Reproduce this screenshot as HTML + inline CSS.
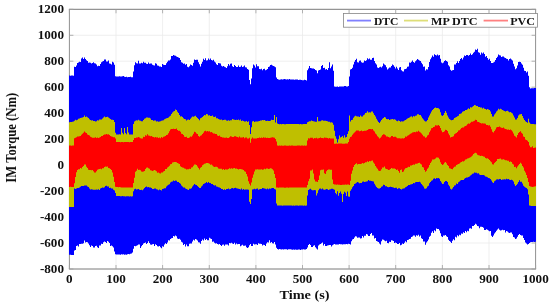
<!DOCTYPE html>
<html><head><meta charset="utf-8"><title>IM Torque</title>
<style>
html,body{margin:0;padding:0;background:#fff;}
body{width:550px;height:307px;overflow:hidden;}
svg{display:block;}
text{font-family:"Liberation Serif","Times New Roman",serif;font-weight:bold;fill:#111;}
</style></head><body>
<svg width="550" height="307" viewBox="0 0 550 307">
<rect x="0" y="0" width="550" height="307" fill="#fff"/>
<g stroke="#ebebeb" stroke-width="0.8" fill="none">
<line x1="116.0" y1="9.3" x2="116.0" y2="269.0"/><line x1="162.6" y1="9.3" x2="162.6" y2="269.0"/><line x1="209.3" y1="9.3" x2="209.3" y2="269.0"/><line x1="255.9" y1="9.3" x2="255.9" y2="269.0"/><line x1="302.5" y1="9.3" x2="302.5" y2="269.0"/><line x1="349.1" y1="9.3" x2="349.1" y2="269.0"/><line x1="395.7" y1="9.3" x2="395.7" y2="269.0"/><line x1="442.4" y1="9.3" x2="442.4" y2="269.0"/><line x1="489.0" y1="9.3" x2="489.0" y2="269.0"/><line x1="69.4" y1="243.0" x2="535.6" y2="243.0"/><line x1="69.4" y1="217.1" x2="535.6" y2="217.1"/><line x1="69.4" y1="191.1" x2="535.6" y2="191.1"/><line x1="69.4" y1="165.1" x2="535.6" y2="165.1"/><line x1="69.4" y1="139.2" x2="535.6" y2="139.2"/><line x1="69.4" y1="113.2" x2="535.6" y2="113.2"/><line x1="69.4" y1="87.2" x2="535.6" y2="87.2"/><line x1="69.4" y1="61.2" x2="535.6" y2="61.2"/><line x1="69.4" y1="35.3" x2="535.6" y2="35.3"/>
</g>
<g stroke="#7a7a7a" stroke-width="1.0" fill="none">
<line x1="69.4" y1="9.3" x2="69.4" y2="269.0" stroke="#909090"/><line x1="535.6" y1="9.3" x2="535.6" y2="269.0" stroke="#909090"/>
<line x1="68.9" y1="9.3" x2="536.1" y2="9.3"/><line x1="68.9" y1="269.0" x2="536.1" y2="269.0"/>
</g>
<g stroke="#a0a0a0" stroke-width="0.8" fill="none">
<line x1="69.4" y1="269.0" x2="69.4" y2="265.0"/><line x1="69.4" y1="9.3" x2="69.4" y2="13.3"/><line x1="116.0" y1="269.0" x2="116.0" y2="265.0"/><line x1="116.0" y1="9.3" x2="116.0" y2="13.3"/><line x1="162.6" y1="269.0" x2="162.6" y2="265.0"/><line x1="162.6" y1="9.3" x2="162.6" y2="13.3"/><line x1="209.3" y1="269.0" x2="209.3" y2="265.0"/><line x1="209.3" y1="9.3" x2="209.3" y2="13.3"/><line x1="255.9" y1="269.0" x2="255.9" y2="265.0"/><line x1="255.9" y1="9.3" x2="255.9" y2="13.3"/><line x1="302.5" y1="269.0" x2="302.5" y2="265.0"/><line x1="302.5" y1="9.3" x2="302.5" y2="13.3"/><line x1="349.1" y1="269.0" x2="349.1" y2="265.0"/><line x1="349.1" y1="9.3" x2="349.1" y2="13.3"/><line x1="395.7" y1="269.0" x2="395.7" y2="265.0"/><line x1="395.7" y1="9.3" x2="395.7" y2="13.3"/><line x1="442.4" y1="269.0" x2="442.4" y2="265.0"/><line x1="442.4" y1="9.3" x2="442.4" y2="13.3"/><line x1="489.0" y1="269.0" x2="489.0" y2="265.0"/><line x1="489.0" y1="9.3" x2="489.0" y2="13.3"/><line x1="535.6" y1="269.0" x2="535.6" y2="265.0"/><line x1="535.6" y1="9.3" x2="535.6" y2="13.3"/><line x1="69.4" y1="269.0" x2="73.4" y2="269.0"/><line x1="535.6" y1="269.0" x2="531.6" y2="269.0"/><line x1="69.4" y1="243.0" x2="73.4" y2="243.0"/><line x1="535.6" y1="243.0" x2="531.6" y2="243.0"/><line x1="69.4" y1="217.1" x2="73.4" y2="217.1"/><line x1="535.6" y1="217.1" x2="531.6" y2="217.1"/><line x1="69.4" y1="191.1" x2="73.4" y2="191.1"/><line x1="535.6" y1="191.1" x2="531.6" y2="191.1"/><line x1="69.4" y1="165.1" x2="73.4" y2="165.1"/><line x1="535.6" y1="165.1" x2="531.6" y2="165.1"/><line x1="69.4" y1="139.2" x2="73.4" y2="139.2"/><line x1="535.6" y1="139.2" x2="531.6" y2="139.2"/><line x1="69.4" y1="113.2" x2="73.4" y2="113.2"/><line x1="535.6" y1="113.2" x2="531.6" y2="113.2"/><line x1="69.4" y1="87.2" x2="73.4" y2="87.2"/><line x1="535.6" y1="87.2" x2="531.6" y2="87.2"/><line x1="69.4" y1="61.2" x2="73.4" y2="61.2"/><line x1="535.6" y1="61.2" x2="531.6" y2="61.2"/><line x1="69.4" y1="35.3" x2="73.4" y2="35.3"/><line x1="535.6" y1="35.3" x2="531.6" y2="35.3"/><line x1="69.4" y1="9.3" x2="73.4" y2="9.3"/><line x1="535.6" y1="9.3" x2="531.6" y2="9.3"/>
</g>
<clipPath id="c"><rect x="69.0" y="9.3" width="467.00000000000006" height="259.7"/></clipPath>
<g clip-path="url(#c)">
<polygon fill="#0000ff" points="69.0,75.5 70.0,75.5 70.0,75.7 71.0,75.7 71.0,75.5 72.0,75.5 72.0,75.4 73.0,75.4 73.0,75.8 74.0,75.8 74.0,66.8 75.0,66.8 75.0,67.0 76.0,67.0 76.0,65.4 77.0,65.4 77.0,63.0 78.0,63.0 78.0,62.4 79.0,62.4 79.0,61.8 80.0,61.8 80.0,62.1 81.0,62.1 81.0,58.5 82.0,58.5 82.0,57.6 83.0,57.6 83.0,59.0 84.0,59.0 84.0,57.4 85.0,57.4 85.0,59.1 86.0,59.1 86.0,60.2 87.0,60.2 87.0,61.1 88.0,61.1 88.0,62.7 89.0,62.7 89.0,62.5 90.0,62.5 90.0,62.7 91.0,62.7 91.0,63.6 92.0,63.6 92.0,62.9 93.0,62.9 93.0,62.3 94.0,62.3 94.0,63.3 95.0,63.3 95.0,63.6 96.0,63.6 96.0,64.5 97.0,64.5 97.0,66.2 98.0,66.2 98.0,65.7 99.0,65.7 99.0,66.1 100.0,66.1 100.0,63.9 101.0,63.9 101.0,62.3 102.0,62.3 102.0,61.4 103.0,61.4 103.0,61.1 104.0,61.1 104.0,59.5 105.0,59.5 105.0,59.4 106.0,59.4 106.0,61.4 107.0,61.4 107.0,61.6 108.0,61.6 108.0,60.6 109.0,60.6 109.0,63.4 110.0,63.4 110.0,63.7 111.0,63.7 111.0,64.6 112.0,64.6 112.0,61.7 113.0,61.7 113.0,62.4 114.0,62.4 114.0,64.8 115.0,64.8 115.0,76.2 116.0,76.2 116.0,76.4 117.0,76.4 117.0,76.4 118.0,76.4 118.0,76.5 119.0,76.5 119.0,76.3 120.0,76.3 120.0,76.4 121.0,76.4 121.0,76.5 122.0,76.5 122.0,76.2 123.0,76.2 123.0,76.1 124.0,76.1 124.0,76.8 125.0,76.8 125.0,77.0 126.0,77.0 126.0,76.8 127.0,76.8 127.0,77.3 128.0,77.3 128.0,77.0 129.0,77.0 129.0,77.0 130.0,77.0 130.0,76.8 131.0,76.8 131.0,77.2 132.0,77.2 132.0,77.2 133.0,77.2 133.0,71.5 134.0,71.5 134.0,65.2 135.0,65.2 135.0,62.3 136.0,62.3 136.0,63.3 137.0,63.3 137.0,63.6 138.0,63.6 138.0,60.7 139.0,60.7 139.0,63.5 140.0,63.5 140.0,63.6 141.0,63.6 141.0,62.8 142.0,62.8 142.0,63.2 143.0,63.2 143.0,61.8 144.0,61.8 144.0,62.7 145.0,62.7 145.0,62.7 146.0,62.7 146.0,63.7 147.0,63.7 147.0,64.0 148.0,64.0 148.0,62.6 149.0,62.6 149.0,63.7 150.0,63.7 150.0,63.5 151.0,63.5 151.0,63.4 152.0,63.4 152.0,64.7 153.0,64.7 153.0,65.2 154.0,65.2 154.0,65.5 155.0,65.5 155.0,63.3 156.0,63.3 156.0,63.7 157.0,63.7 157.0,65.5 158.0,65.5 158.0,65.8 159.0,65.8 159.0,66.6 160.0,66.6 160.0,66.4 161.0,66.4 161.0,66.9 162.0,66.9 162.0,63.9 163.0,63.9 163.0,64.7 164.0,64.7 164.0,64.9 165.0,64.9 165.0,64.9 166.0,64.9 166.0,63.3 167.0,63.3 167.0,61.8 168.0,61.8 168.0,60.5 169.0,60.5 169.0,60.4 170.0,60.4 170.0,59.6 171.0,59.6 171.0,55.9 172.0,55.9 172.0,56.1 173.0,56.1 173.0,55.0 174.0,55.0 174.0,55.5 175.0,55.5 175.0,55.7 176.0,55.7 176.0,56.6 177.0,56.6 177.0,57.1 178.0,57.1 178.0,57.6 179.0,57.6 179.0,57.9 180.0,57.9 180.0,60.1 181.0,60.1 181.0,62.3 182.0,62.3 182.0,62.8 183.0,62.8 183.0,63.8 184.0,63.8 184.0,63.5 185.0,63.5 185.0,64.7 186.0,64.7 186.0,64.1 187.0,64.1 187.0,66.7 188.0,66.7 188.0,67.3 189.0,67.3 189.0,66.2 190.0,66.2 190.0,64.5 191.0,64.5 191.0,65.1 192.0,65.1 192.0,65.7 193.0,65.7 193.0,62.8 194.0,62.8 194.0,59.6 195.0,59.6 195.0,60.1 196.0,60.1 196.0,59.8 197.0,59.8 197.0,59.7 198.0,59.7 198.0,62.3 199.0,62.3 199.0,64.2 200.0,64.2 200.0,66.5 201.0,66.5 201.0,63.8 202.0,63.8 202.0,61.7 203.0,61.7 203.0,58.7 204.0,58.7 204.0,60.0 205.0,60.0 205.0,58.3 206.0,58.3 206.0,60.5 207.0,60.5 207.0,60.2 208.0,60.2 208.0,58.5 209.0,58.5 209.0,59.7 210.0,59.7 210.0,58.6 211.0,58.6 211.0,59.9 212.0,59.9 212.0,60.6 213.0,60.6 213.0,59.8 214.0,59.8 214.0,61.4 215.0,61.4 215.0,62.5 216.0,62.5 216.0,64.3 217.0,64.3 217.0,64.9 218.0,64.9 218.0,63.1 219.0,63.1 219.0,63.3 220.0,63.3 220.0,63.5 221.0,63.5 221.0,65.7 222.0,65.7 222.0,66.4 223.0,66.4 223.0,66.0 224.0,66.0 224.0,66.7 225.0,66.7 225.0,67.3 226.0,67.3 226.0,68.1 227.0,68.1 227.0,66.3 228.0,66.3 228.0,63.9 229.0,63.9 229.0,65.6 230.0,65.6 230.0,63.8 231.0,63.8 231.0,63.6 232.0,63.6 232.0,66.3 233.0,66.3 233.0,67.0 234.0,67.0 234.0,64.9 235.0,64.9 235.0,66.0 236.0,66.0 236.0,67.1 237.0,67.1 237.0,67.1 238.0,67.1 238.0,65.6 239.0,65.6 239.0,67.0 240.0,67.0 240.0,66.8 241.0,66.8 241.0,65.6 242.0,65.6 242.0,67.1 243.0,67.1 243.0,66.4 244.0,66.4 244.0,65.5 245.0,65.5 245.0,67.3 246.0,67.3 246.0,67.6 247.0,67.6 247.0,68.9 248.0,68.9 248.0,69.8 249.0,69.8 249.0,80.0 250.0,80.0 250.0,84.3 251.0,84.3 251.0,78.4 252.0,78.4 252.0,68.2 253.0,68.2 253.0,64.6 254.0,64.6 254.0,65.4 255.0,65.4 255.0,67.5 256.0,67.5 256.0,64.2 257.0,64.2 257.0,66.3 258.0,66.3 258.0,66.3 259.0,66.3 259.0,69.0 260.0,69.0 260.0,69.3 261.0,69.3 261.0,68.8 262.0,68.8 262.0,70.3 263.0,70.3 263.0,69.0 264.0,69.0 264.0,68.7 265.0,68.7 265.0,70.2 266.0,70.2 266.0,69.7 267.0,69.7 267.0,69.1 268.0,69.1 268.0,66.9 269.0,66.9 269.0,66.6 270.0,66.6 270.0,65.0 271.0,65.0 271.0,64.7 272.0,64.7 272.0,65.5 273.0,65.5 273.0,65.9 274.0,65.9 274.0,66.5 275.0,66.5 275.0,67.2 276.0,67.2 276.0,77.4 277.0,77.4 277.0,79.1 278.0,79.1 278.0,79.6 279.0,79.6 279.0,79.7 280.0,79.7 280.0,79.6 281.0,79.6 281.0,79.2 282.0,79.2 282.0,79.6 283.0,79.6 283.0,79.2 284.0,79.2 284.0,79.1 285.0,79.1 285.0,79.3 286.0,79.3 286.0,79.6 287.0,79.6 287.0,79.3 288.0,79.3 288.0,79.4 289.0,79.4 289.0,79.1 290.0,79.1 290.0,79.6 291.0,79.6 291.0,79.6 292.0,79.6 292.0,79.4 293.0,79.4 293.0,79.5 294.0,79.5 294.0,79.7 295.0,79.7 295.0,79.6 296.0,79.6 296.0,79.4 297.0,79.4 297.0,79.6 298.0,79.6 298.0,79.9 299.0,79.9 299.0,79.8 300.0,79.8 300.0,79.8 301.0,79.8 301.0,79.9 302.0,79.9 302.0,80.2 303.0,80.2 303.0,80.2 304.0,80.2 304.0,79.8 305.0,79.8 305.0,80.1 306.0,80.1 306.0,80.6 307.0,80.6 307.0,70.2 308.0,70.2 308.0,68.4 309.0,68.4 309.0,66.0 310.0,66.0 310.0,68.0 311.0,68.0 311.0,68.2 312.0,68.2 312.0,68.5 313.0,68.5 313.0,68.4 314.0,68.4 314.0,69.1 315.0,69.1 315.0,69.9 316.0,69.9 316.0,70.6 317.0,70.6 317.0,73.3 318.0,73.3 318.0,70.6 319.0,70.6 319.0,69.9 320.0,69.9 320.0,69.5 321.0,69.5 321.0,65.9 322.0,65.9 322.0,65.0 323.0,65.0 323.0,68.0 324.0,68.0 324.0,67.7 325.0,67.7 325.0,69.5 326.0,69.5 326.0,69.1 327.0,69.1 327.0,70.0 328.0,70.0 328.0,68.0 329.0,68.0 329.0,62.3 330.0,62.3 330.0,68.3 331.0,68.3 331.0,66.5 332.0,66.5 332.0,64.6 333.0,64.6 333.0,70.8 334.0,70.8 334.0,86.6 335.0,86.6 335.0,86.8 336.0,86.8 336.0,86.7 337.0,86.7 337.0,86.5 338.0,86.5 338.0,86.9 339.0,86.9 339.0,86.4 340.0,86.4 340.0,86.6 341.0,86.6 341.0,86.6 342.0,86.6 342.0,86.6 343.0,86.6 343.0,86.6 344.0,86.6 344.0,86.1 345.0,86.1 345.0,86.0 346.0,86.0 346.0,86.5 347.0,86.5 347.0,86.4 348.0,86.4 348.0,86.0 349.0,86.0 349.0,76.5 350.0,76.5 350.0,69.6 351.0,69.6 351.0,69.1 352.0,69.1 352.0,67.8 353.0,67.8 353.0,64.6 354.0,64.6 354.0,61.7 355.0,61.7 355.0,59.9 356.0,59.9 356.0,58.8 357.0,58.8 357.0,62.2 358.0,62.2 358.0,62.6 359.0,62.6 359.0,60.8 360.0,60.8 360.0,60.6 361.0,60.6 361.0,62.3 362.0,62.3 362.0,62.7 363.0,62.7 363.0,62.6 364.0,62.6 364.0,60.6 365.0,60.6 365.0,60.9 366.0,60.9 366.0,60.2 367.0,60.2 367.0,58.3 368.0,58.3 368.0,59.3 369.0,59.3 369.0,58.6 370.0,58.6 370.0,59.7 371.0,59.7 371.0,59.7 372.0,59.7 372.0,58.1 373.0,58.1 373.0,57.7 374.0,57.7 374.0,61.0 375.0,61.0 375.0,63.2 376.0,63.2 376.0,64.4 377.0,64.4 377.0,67.4 378.0,67.4 378.0,68.0 379.0,68.0 379.0,67.2 380.0,67.2 380.0,66.8 381.0,66.8 381.0,67.6 382.0,67.6 382.0,66.3 383.0,66.3 383.0,63.4 384.0,63.4 384.0,64.6 385.0,64.6 385.0,65.3 386.0,65.3 386.0,67.3 387.0,67.3 387.0,69.4 388.0,69.4 388.0,68.6 389.0,68.6 389.0,67.4 390.0,67.4 390.0,67.6 391.0,67.6 391.0,66.0 392.0,66.0 392.0,64.6 393.0,64.6 393.0,65.3 394.0,65.3 394.0,66.7 395.0,66.7 395.0,68.5 396.0,68.5 396.0,66.7 397.0,66.7 397.0,68.6 398.0,68.6 398.0,70.1 399.0,70.1 399.0,67.5 400.0,67.5 400.0,66.9 401.0,66.9 401.0,70.2 402.0,70.2 402.0,71.2 403.0,71.2 403.0,71.5 404.0,71.5 404.0,69.2 405.0,69.2 405.0,69.1 406.0,69.1 406.0,68.4 407.0,68.4 407.0,66.7 408.0,66.7 408.0,66.4 409.0,66.4 409.0,62.6 410.0,62.6 410.0,62.7 411.0,62.7 411.0,61.7 412.0,61.7 412.0,60.6 413.0,60.6 413.0,61.9 414.0,61.9 414.0,62.8 415.0,62.8 415.0,61.3 416.0,61.3 416.0,60.3 417.0,60.3 417.0,58.9 418.0,58.9 418.0,59.8 419.0,59.8 419.0,60.6 420.0,60.6 420.0,61.0 421.0,61.0 421.0,62.7 422.0,62.7 422.0,64.3 423.0,64.3 423.0,66.8 424.0,66.8 424.0,66.6 425.0,66.6 425.0,70.5 426.0,70.5 426.0,69.2 427.0,69.2 427.0,69.4 428.0,69.4 428.0,67.0 429.0,67.0 429.0,62.0 430.0,62.0 430.0,59.2 431.0,59.2 431.0,57.6 432.0,57.6 432.0,55.6 433.0,55.6 433.0,56.8 434.0,56.8 434.0,54.3 435.0,54.3 435.0,54.9 436.0,54.9 436.0,55.6 437.0,55.6 437.0,54.6 438.0,54.6 438.0,55.4 439.0,55.4 439.0,55.1 440.0,55.1 440.0,58.8 441.0,58.8 441.0,62.6 442.0,62.6 442.0,63.3 443.0,63.3 443.0,62.6 444.0,62.6 444.0,60.9 445.0,60.9 445.0,60.2 446.0,60.2 446.0,61.1 447.0,61.1 447.0,61.7 448.0,61.7 448.0,65.3 449.0,65.3 449.0,66.5 450.0,66.5 450.0,69.8 451.0,69.8 451.0,70.8 452.0,70.8 452.0,70.2 453.0,70.2 453.0,69.9 454.0,69.9 454.0,64.5 455.0,64.5 455.0,64.6 456.0,64.6 456.0,63.1 457.0,63.1 457.0,61.2 458.0,61.2 458.0,63.0 459.0,63.0 459.0,60.9 460.0,60.9 460.0,58.9 461.0,58.9 461.0,58.1 462.0,58.1 462.0,59.6 463.0,59.6 463.0,57.6 464.0,57.6 464.0,55.4 465.0,55.4 465.0,56.1 466.0,56.1 466.0,55.0 467.0,55.0 467.0,55.0 468.0,55.0 468.0,55.7 469.0,55.7 469.0,54.9 470.0,54.9 470.0,53.4 471.0,53.4 471.0,55.0 472.0,55.0 472.0,54.2 473.0,54.2 473.0,52.7 474.0,52.7 474.0,51.8 475.0,51.8 475.0,49.6 476.0,49.6 476.0,50.0 477.0,50.0 477.0,48.7 478.0,48.7 478.0,52.3 479.0,52.3 479.0,52.8 480.0,52.8 480.0,54.7 481.0,54.7 481.0,52.6 482.0,52.6 482.0,53.6 483.0,53.6 483.0,52.4 484.0,52.4 484.0,54.1 485.0,54.1 485.0,56.7 486.0,56.7 486.0,56.0 487.0,56.0 487.0,58.1 488.0,58.1 488.0,59.7 489.0,59.7 489.0,58.7 490.0,58.7 490.0,60.9 491.0,60.9 491.0,63.0 492.0,63.0 492.0,63.1 493.0,63.1 493.0,62.4 494.0,62.4 494.0,61.7 495.0,61.7 495.0,60.0 496.0,60.0 496.0,58.0 497.0,58.0 497.0,56.7 498.0,56.7 498.0,54.4 499.0,54.4 499.0,55.3 500.0,55.3 500.0,55.5 501.0,55.5 501.0,57.0 502.0,57.0 502.0,56.6 503.0,56.6 503.0,56.5 504.0,56.5 504.0,57.5 505.0,57.5 505.0,58.1 506.0,58.1 506.0,58.8 507.0,58.8 507.0,58.9 508.0,58.9 508.0,60.6 509.0,60.6 509.0,59.1 510.0,59.1 510.0,58.5 511.0,58.5 511.0,59.5 512.0,59.5 512.0,60.6 513.0,60.6 513.0,63.8 514.0,63.8 514.0,66.6 515.0,66.6 515.0,69.2 516.0,69.2 516.0,68.2 517.0,68.2 517.0,65.5 518.0,65.5 518.0,62.0 519.0,62.0 519.0,61.8 520.0,61.8 520.0,62.0 521.0,62.0 521.0,63.4 522.0,63.4 522.0,64.8 523.0,64.8 523.0,67.7 524.0,67.7 524.0,70.8 525.0,70.8 525.0,71.1 526.0,71.1 526.0,72.6 527.0,72.6 527.0,71.6 528.0,71.6 528.0,75.7 529.0,75.7 529.0,87.3 530.0,87.3 530.0,88.4 531.0,88.4 531.0,88.2 532.0,88.2 532.0,88.3 533.0,88.3 533.0,88.2 534.0,88.2 534.0,88.1 535.0,88.1 535.0,87.9 536.0,87.9 536.0,87.9 537.0,87.9 537.0,241.9 536.0,241.9 536.0,241.7 535.0,241.7 535.0,242.0 534.0,242.0 534.0,241.7 533.0,241.7 533.0,242.1 532.0,242.1 532.0,241.9 531.0,241.9 531.0,242.2 530.0,242.2 530.0,242.9 529.0,242.9 529.0,244.0 528.0,244.0 528.0,244.6 527.0,244.6 527.0,243.6 526.0,243.6 526.0,242.4 525.0,242.4 525.0,240.0 524.0,240.0 524.0,238.1 523.0,238.1 523.0,235.5 522.0,235.5 522.0,235.6 521.0,235.6 521.0,234.9 520.0,234.9 520.0,234.0 519.0,234.0 519.0,234.9 518.0,234.9 518.0,236.7 517.0,236.7 517.0,238.5 516.0,238.5 516.0,239.1 515.0,239.1 515.0,237.6 514.0,237.6 514.0,237.1 513.0,237.1 513.0,234.2 512.0,234.2 512.0,232.4 511.0,232.4 511.0,232.4 510.0,232.4 510.0,233.0 509.0,233.0 509.0,232.5 508.0,232.5 508.0,231.5 507.0,231.5 507.0,230.9 506.0,230.9 506.0,232.6 505.0,232.6 505.0,230.1 504.0,230.1 504.0,230.3 503.0,230.3 503.0,229.7 502.0,229.7 502.0,230.2 501.0,230.2 501.0,230.6 500.0,230.6 500.0,229.7 499.0,229.7 499.0,228.6 498.0,228.6 498.0,229.4 497.0,229.4 497.0,230.8 496.0,230.8 496.0,232.3 495.0,232.3 495.0,233.5 494.0,233.5 494.0,235.6 493.0,235.6 493.0,237.1 492.0,237.1 492.0,235.8 491.0,235.8 491.0,231.0 490.0,231.0 490.0,231.2 489.0,231.2 489.0,230.4 488.0,230.4 488.0,229.7 487.0,229.7 487.0,229.3 486.0,229.3 486.0,230.0 485.0,230.0 485.0,229.9 484.0,229.9 484.0,227.7 483.0,227.7 483.0,226.9 482.0,226.9 482.0,226.8 481.0,226.8 481.0,226.8 480.0,226.8 480.0,228.2 479.0,228.2 479.0,226.3 478.0,226.3 478.0,225.9 477.0,225.9 477.0,224.4 476.0,224.4 476.0,223.7 475.0,223.7 475.0,225.0 474.0,225.0 474.0,225.9 473.0,225.9 473.0,226.0 472.0,226.0 472.0,228.8 471.0,228.8 471.0,228.2 470.0,228.2 470.0,228.4 469.0,228.4 469.0,231.2 468.0,231.2 468.0,230.8 467.0,230.8 467.0,232.2 466.0,232.2 466.0,231.1 465.0,231.1 465.0,233.0 464.0,233.0 464.0,232.2 463.0,232.2 463.0,233.8 462.0,233.8 462.0,233.5 461.0,233.5 461.0,235.2 460.0,235.2 460.0,234.8 459.0,234.8 459.0,236.2 458.0,236.2 458.0,235.2 457.0,235.2 457.0,237.5 456.0,237.5 456.0,236.8 455.0,236.8 455.0,240.2 454.0,240.2 454.0,239.2 453.0,239.2 453.0,240.8 452.0,240.8 452.0,243.1 451.0,243.1 451.0,241.7 450.0,241.7 450.0,240.9 449.0,240.9 449.0,239.8 448.0,239.8 448.0,237.1 447.0,237.1 447.0,236.3 446.0,236.3 446.0,234.9 445.0,234.9 445.0,235.5 444.0,235.5 444.0,235.5 443.0,235.5 443.0,236.9 442.0,236.9 442.0,236.3 441.0,236.3 441.0,233.2 440.0,233.2 440.0,230.5 439.0,230.5 439.0,228.9 438.0,228.9 438.0,229.0 437.0,229.0 437.0,228.6 436.0,228.6 436.0,231.2 435.0,231.2 435.0,230.2 434.0,230.2 434.0,233.0 433.0,233.0 433.0,231.2 432.0,231.2 432.0,232.8 431.0,232.8 431.0,235.7 430.0,235.7 430.0,236.8 429.0,236.8 429.0,239.5 428.0,239.5 428.0,241.3 427.0,241.3 427.0,242.5 426.0,242.5 426.0,244.8 425.0,244.8 425.0,241.6 424.0,241.6 424.0,241.4 423.0,241.4 423.0,239.0 422.0,239.0 422.0,238.3 421.0,238.3 421.0,235.6 420.0,235.6 420.0,236.6 419.0,236.6 419.0,234.8 418.0,234.8 418.0,235.8 417.0,235.8 417.0,235.2 416.0,235.2 416.0,236.8 415.0,236.8 415.0,235.5 414.0,235.5 414.0,235.6 413.0,235.6 413.0,236.6 412.0,236.6 412.0,237.1 411.0,237.1 411.0,238.7 410.0,238.7 410.0,239.1 409.0,239.1 409.0,239.7 408.0,239.7 408.0,240.0 407.0,240.0 407.0,242.2 406.0,242.2 406.0,241.2 405.0,241.2 405.0,242.7 404.0,242.7 404.0,243.9 403.0,243.9 403.0,243.4 402.0,243.4 402.0,244.8 401.0,244.8 401.0,245.3 400.0,245.3 400.0,242.9 399.0,242.9 399.0,244.0 398.0,244.0 398.0,243.9 397.0,243.9 397.0,242.9 396.0,242.9 396.0,242.6 395.0,242.6 395.0,243.0 394.0,243.0 394.0,241.1 393.0,241.1 393.0,240.5 392.0,240.5 392.0,240.2 391.0,240.2 391.0,242.1 390.0,242.1 390.0,241.7 389.0,241.7 389.0,243.2 388.0,243.2 388.0,243.1 387.0,243.1 387.0,240.8 386.0,240.8 386.0,241.2 385.0,241.2 385.0,240.4 384.0,240.4 384.0,239.7 383.0,239.7 383.0,239.4 382.0,239.4 382.0,241.3 381.0,241.3 381.0,244.6 380.0,244.6 380.0,243.6 379.0,243.6 379.0,242.0 378.0,242.0 378.0,241.4 377.0,241.4 377.0,240.9 376.0,240.9 376.0,238.1 375.0,238.1 375.0,238.5 374.0,238.5 374.0,235.4 373.0,235.4 373.0,235.6 372.0,235.6 372.0,233.1 371.0,233.1 371.0,234.1 370.0,234.1 370.0,236.1 369.0,236.1 369.0,236.1 368.0,236.1 368.0,234.4 367.0,234.4 367.0,234.0 366.0,234.0 366.0,235.7 365.0,235.7 365.0,235.8 364.0,235.8 364.0,237.4 363.0,237.4 363.0,236.0 362.0,236.0 362.0,238.3 361.0,238.3 361.0,238.4 360.0,238.4 360.0,237.5 359.0,237.5 359.0,237.5 358.0,237.5 358.0,237.8 357.0,237.8 357.0,236.5 356.0,236.5 356.0,236.2 355.0,236.2 355.0,237.4 354.0,237.4 354.0,238.9 353.0,238.9 353.0,239.6 352.0,239.6 352.0,241.2 351.0,241.2 351.0,244.6 350.0,244.6 350.0,243.9 349.0,243.9 349.0,243.8 348.0,243.8 348.0,244.2 347.0,244.2 347.0,244.1 346.0,244.1 346.0,244.3 345.0,244.3 345.0,244.3 344.0,244.3 344.0,244.2 343.0,244.2 343.0,244.4 342.0,244.4 342.0,244.2 341.0,244.2 341.0,244.3 340.0,244.3 340.0,244.0 339.0,244.0 339.0,244.4 338.0,244.4 338.0,244.4 337.0,244.4 337.0,244.4 336.0,244.4 336.0,244.4 335.0,244.4 335.0,244.1 334.0,244.1 334.0,244.4 333.0,244.4 333.0,245.2 332.0,245.2 332.0,246.4 331.0,246.4 331.0,245.0 330.0,245.0 330.0,245.0 329.0,245.0 329.0,245.3 328.0,245.3 328.0,245.4 327.0,245.4 327.0,246.1 326.0,246.1 326.0,245.9 325.0,245.9 325.0,243.9 324.0,243.9 324.0,245.4 323.0,245.4 323.0,242.6 322.0,242.6 322.0,243.3 321.0,243.3 321.0,243.9 320.0,243.9 320.0,244.4 319.0,244.4 319.0,245.5 318.0,245.5 318.0,249.5 317.0,249.5 317.0,248.6 316.0,248.6 316.0,247.3 315.0,247.3 315.0,245.2 314.0,245.2 314.0,245.7 313.0,245.7 313.0,246.9 312.0,246.9 312.0,246.9 311.0,246.9 311.0,245.0 310.0,245.0 310.0,244.0 309.0,244.0 309.0,244.9 308.0,244.9 308.0,247.4 307.0,247.4 307.0,249.1 306.0,249.1 306.0,249.5 305.0,249.5 305.0,249.5 304.0,249.5 304.0,249.2 303.0,249.2 303.0,249.6 302.0,249.6 302.0,249.5 301.0,249.5 301.0,249.9 300.0,249.9 300.0,249.5 299.0,249.5 299.0,249.4 298.0,249.4 298.0,249.7 297.0,249.7 297.0,249.8 296.0,249.8 296.0,249.6 295.0,249.6 295.0,249.7 294.0,249.7 294.0,249.6 293.0,249.6 293.0,249.7 292.0,249.7 292.0,249.6 291.0,249.6 291.0,249.3 290.0,249.3 290.0,249.3 289.0,249.3 289.0,249.3 288.0,249.3 288.0,249.7 287.0,249.7 287.0,249.2 286.0,249.2 286.0,249.2 285.0,249.2 285.0,249.3 284.0,249.3 284.0,249.6 283.0,249.6 283.0,249.3 282.0,249.3 282.0,249.6 281.0,249.6 281.0,249.2 280.0,249.2 280.0,249.1 279.0,249.1 279.0,249.4 278.0,249.4 278.0,249.0 277.0,249.0 277.0,247.8 276.0,247.8 276.0,244.6 275.0,244.6 275.0,241.9 274.0,241.9 274.0,243.6 273.0,243.6 273.0,243.2 272.0,243.2 272.0,241.9 271.0,241.9 271.0,242.7 270.0,242.7 270.0,240.2 269.0,240.2 269.0,242.6 268.0,242.6 268.0,242.2 267.0,242.2 267.0,243.5 266.0,243.5 266.0,245.9 265.0,245.9 265.0,245.0 264.0,245.0 264.0,244.7 263.0,244.7 263.0,245.4 262.0,245.4 262.0,243.9 261.0,243.9 261.0,243.8 260.0,243.8 260.0,243.8 259.0,243.8 259.0,243.2 258.0,243.2 258.0,245.0 257.0,245.0 257.0,244.3 256.0,244.3 256.0,244.3 255.0,244.3 255.0,244.4 254.0,244.4 254.0,243.8 253.0,243.8 253.0,246.0 252.0,246.0 252.0,246.1 251.0,246.1 251.0,244.0 250.0,244.0 250.0,245.2 249.0,245.2 249.0,247.3 248.0,247.3 248.0,248.0 247.0,248.0 247.0,247.3 246.0,247.3 246.0,245.5 245.0,245.5 245.0,245.8 244.0,245.8 244.0,245.7 243.0,245.7 243.0,244.8 242.0,244.8 242.0,245.5 241.0,245.5 241.0,246.3 240.0,246.3 240.0,244.1 239.0,244.1 239.0,244.1 238.0,244.1 238.0,244.2 237.0,244.2 237.0,243.6 236.0,243.6 236.0,244.4 235.0,244.4 235.0,242.8 234.0,242.8 234.0,244.0 233.0,244.0 233.0,243.5 232.0,243.5 232.0,242.8 231.0,242.8 231.0,243.2 230.0,243.2 230.0,243.1 229.0,243.1 229.0,245.4 228.0,245.4 228.0,244.4 227.0,244.4 227.0,244.5 226.0,244.5 226.0,244.4 225.0,244.4 225.0,245.8 224.0,245.8 224.0,244.4 223.0,244.4 223.0,244.7 222.0,244.7 222.0,246.0 221.0,246.0 221.0,245.0 220.0,245.0 220.0,243.9 219.0,243.9 219.0,244.6 218.0,244.6 218.0,243.9 217.0,243.9 217.0,243.2 216.0,243.2 216.0,243.4 215.0,243.4 215.0,242.7 214.0,242.7 214.0,241.4 213.0,241.4 213.0,241.8 212.0,241.8 212.0,238.9 211.0,238.9 211.0,238.4 210.0,238.4 210.0,237.8 209.0,237.8 209.0,240.3 208.0,240.3 208.0,240.2 207.0,240.2 207.0,239.1 206.0,239.1 206.0,239.9 205.0,239.9 205.0,238.5 204.0,238.5 204.0,240.5 203.0,240.5 203.0,239.5 202.0,239.5 202.0,240.9 201.0,240.9 201.0,243.8 200.0,243.8 200.0,242.5 199.0,242.5 199.0,242.2 198.0,242.2 198.0,240.4 197.0,240.4 197.0,239.5 196.0,239.5 196.0,239.1 195.0,239.1 195.0,240.6 194.0,240.6 194.0,239.8 193.0,239.8 193.0,241.4 192.0,241.4 192.0,243.4 191.0,243.4 191.0,243.6 190.0,243.6 190.0,243.7 189.0,243.7 189.0,246.2 188.0,246.2 188.0,246.3 187.0,246.3 187.0,244.6 186.0,244.6 186.0,246.5 185.0,246.5 185.0,244.0 184.0,244.0 184.0,245.1 183.0,245.1 183.0,242.4 182.0,242.4 182.0,241.7 181.0,241.7 181.0,239.8 180.0,239.8 180.0,238.8 179.0,238.8 179.0,238.9 178.0,238.9 178.0,238.6 177.0,238.6 177.0,236.3 176.0,236.3 176.0,235.5 175.0,235.5 175.0,236.6 174.0,236.6 174.0,236.1 173.0,236.1 173.0,238.0 172.0,238.0 172.0,238.3 171.0,238.3 171.0,239.1 170.0,239.1 170.0,240.5 169.0,240.5 169.0,240.2 168.0,240.2 168.0,242.5 167.0,242.5 167.0,244.1 166.0,244.1 166.0,243.2 165.0,243.2 165.0,244.6 164.0,244.6 164.0,246.7 163.0,246.7 163.0,246.2 162.0,246.2 162.0,248.2 161.0,248.2 161.0,247.2 160.0,247.2 160.0,245.9 159.0,245.9 159.0,246.4 158.0,246.4 158.0,246.3 157.0,246.3 157.0,244.9 156.0,244.9 156.0,244.2 155.0,244.2 155.0,245.9 154.0,245.9 154.0,244.1 153.0,244.1 153.0,244.2 152.0,244.2 152.0,244.7 151.0,244.7 151.0,244.4 150.0,244.4 150.0,243.1 149.0,243.1 149.0,241.3 148.0,241.3 148.0,243.1 147.0,243.1 147.0,243.9 146.0,243.9 146.0,242.6 145.0,242.6 145.0,242.9 144.0,242.9 144.0,243.4 143.0,243.4 143.0,245.0 142.0,245.0 142.0,246.3 141.0,246.3 141.0,247.9 140.0,247.9 140.0,244.4 139.0,244.4 139.0,244.6 138.0,244.6 138.0,245.3 137.0,245.3 137.0,245.8 136.0,245.8 136.0,246.3 135.0,246.3 135.0,246.1 134.0,246.1 134.0,248.7 133.0,248.7 133.0,252.6 132.0,252.6 132.0,253.5 131.0,253.5 131.0,253.8 130.0,253.8 130.0,254.3 129.0,254.3 129.0,253.9 128.0,253.9 128.0,254.3 127.0,254.3 127.0,254.7 126.0,254.7 126.0,254.4 125.0,254.4 125.0,254.7 124.0,254.7 124.0,254.2 123.0,254.2 123.0,254.5 122.0,254.5 122.0,254.3 121.0,254.3 121.0,254.7 120.0,254.7 120.0,254.4 119.0,254.4 119.0,254.5 118.0,254.5 118.0,254.5 117.0,254.5 117.0,254.5 116.0,254.5 116.0,254.3 115.0,254.3 115.0,251.5 114.0,251.5 114.0,247.4 113.0,247.4 113.0,246.3 112.0,246.3 112.0,245.5 111.0,245.5 111.0,245.9 110.0,245.9 110.0,243.0 109.0,243.0 109.0,241.8 108.0,241.8 108.0,241.1 107.0,241.1 107.0,242.9 106.0,242.9 106.0,242.0 105.0,242.0 105.0,241.6 104.0,241.6 104.0,242.2 103.0,242.2 103.0,244.1 102.0,244.1 102.0,243.8 101.0,243.8 101.0,245.5 100.0,245.5 100.0,245.4 99.0,245.4 99.0,247.9 98.0,247.9 98.0,247.3 97.0,247.3 97.0,245.8 96.0,245.8 96.0,245.9 95.0,245.9 95.0,247.6 94.0,247.6 94.0,247.6 93.0,247.6 93.0,245.9 92.0,245.9 92.0,245.4 91.0,245.4 91.0,247.1 90.0,247.1 90.0,245.3 89.0,245.3 89.0,243.5 88.0,243.5 88.0,242.3 87.0,242.3 87.0,241.9 86.0,241.9 86.0,242.6 85.0,242.6 85.0,240.5 84.0,240.5 84.0,243.3 83.0,243.3 83.0,243.8 82.0,243.8 82.0,243.8 81.0,243.8 81.0,243.9 80.0,243.9 80.0,244.0 79.0,244.0 79.0,246.4 78.0,246.4 78.0,245.5 77.0,245.5 77.0,246.1 76.0,246.1 76.0,250.0 75.0,250.0 75.0,250.6 74.0,250.6 74.0,255.1 73.0,255.1 73.0,255.1 72.0,255.1 72.0,255.0 71.0,255.0 71.0,254.7 70.0,254.7 70.0,254.8 69.0,254.8"/>
<polygon fill="#bfbf00" points="69.0,122.3 70.0,122.3 70.0,122.0 71.0,122.0 71.0,122.0 72.0,122.0 72.0,121.7 73.0,121.7 73.0,121.4 74.0,121.4 74.0,120.7 75.0,120.7 75.0,119.7 76.0,119.7 76.0,120.2 77.0,120.2 77.0,119.8 78.0,119.8 78.0,118.8 79.0,118.8 79.0,118.6 80.0,118.6 80.0,117.9 81.0,117.9 81.0,117.8 82.0,117.8 82.0,117.4 83.0,117.4 83.0,117.0 84.0,117.0 84.0,115.5 85.0,115.5 85.0,117.0 86.0,117.0 86.0,116.6 87.0,116.6 87.0,117.3 88.0,117.3 88.0,118.1 89.0,118.1 89.0,119.2 90.0,119.2 90.0,119.9 91.0,119.9 91.0,120.6 92.0,120.6 92.0,120.3 93.0,120.3 93.0,120.9 94.0,120.9 94.0,121.0 95.0,121.0 95.0,121.4 96.0,121.4 96.0,121.2 97.0,121.2 97.0,120.3 98.0,120.3 98.0,120.5 99.0,120.5 99.0,119.5 100.0,119.5 100.0,119.6 101.0,119.6 101.0,119.5 102.0,119.5 102.0,118.6 103.0,118.6 103.0,117.6 104.0,117.6 104.0,116.6 105.0,116.6 105.0,117.2 106.0,117.2 106.0,116.9 107.0,116.9 107.0,116.7 108.0,116.7 108.0,117.4 109.0,117.4 109.0,118.3 110.0,118.3 110.0,118.9 111.0,118.9 111.0,119.7 112.0,119.7 112.0,119.8 113.0,119.8 113.0,119.9 114.0,119.9 114.0,121.9 115.0,121.9 115.0,132.7 116.0,132.7 116.0,134.4 117.0,134.4 117.0,134.5 118.0,134.5 118.0,134.5 119.0,134.5 119.0,134.3 120.0,134.3 120.0,134.6 121.0,134.6 121.0,128.0 122.0,128.0 122.0,132.8 123.0,132.8 123.0,134.3 124.0,134.3 124.0,128.1 125.0,128.1 125.0,133.0 126.0,133.0 126.0,134.3 127.0,134.3 127.0,127.1 128.0,127.1 128.0,132.6 129.0,132.6 129.0,134.6 130.0,134.6 130.0,134.5 131.0,134.5 131.0,134.5 132.0,134.5 132.0,134.4 133.0,134.4 133.0,124.1 134.0,124.1 134.0,121.6 135.0,121.6 135.0,120.7 136.0,120.7 136.0,120.3 137.0,120.3 137.0,120.6 138.0,120.6 138.0,119.8 139.0,119.8 139.0,120.5 140.0,120.5 140.0,120.8 141.0,120.8 141.0,121.2 142.0,121.2 142.0,121.2 143.0,121.2 143.0,119.9 144.0,119.9 144.0,118.8 145.0,118.8 145.0,118.3 146.0,118.3 146.0,117.4 147.0,117.4 147.0,117.4 148.0,117.4 148.0,117.8 149.0,117.8 149.0,117.8 150.0,117.8 150.0,118.6 151.0,118.6 151.0,119.9 152.0,119.9 152.0,120.1 153.0,120.1 153.0,120.7 154.0,120.7 154.0,120.6 155.0,120.6 155.0,120.6 156.0,120.6 156.0,121.4 157.0,121.4 157.0,121.3 158.0,121.3 158.0,121.7 159.0,121.7 159.0,121.6 160.0,121.6 160.0,121.3 161.0,121.3 161.0,120.7 162.0,120.7 162.0,120.5 163.0,120.5 163.0,120.2 164.0,120.2 164.0,119.3 165.0,119.3 165.0,118.8 166.0,118.8 166.0,118.2 167.0,118.2 167.0,118.0 168.0,118.0 168.0,117.4 169.0,117.4 169.0,116.5 170.0,116.5 170.0,115.8 171.0,115.8 171.0,114.0 172.0,114.0 172.0,112.5 173.0,112.5 173.0,111.6 174.0,111.6 174.0,111.1 175.0,111.1 175.0,109.6 176.0,109.6 176.0,110.0 177.0,110.0 177.0,111.7 178.0,111.7 178.0,113.1 179.0,113.1 179.0,115.1 180.0,115.1 180.0,116.4 181.0,116.4 181.0,116.2 182.0,116.2 182.0,116.9 183.0,116.9 183.0,118.3 184.0,118.3 184.0,118.9 185.0,118.9 185.0,119.2 186.0,119.2 186.0,120.4 187.0,120.4 187.0,119.7 188.0,119.7 188.0,119.6 189.0,119.6 189.0,119.9 190.0,119.9 190.0,118.7 191.0,118.7 191.0,117.6 192.0,117.6 192.0,116.6 193.0,116.6 193.0,116.7 194.0,116.7 194.0,116.3 195.0,116.3 195.0,115.8 196.0,115.8 196.0,116.9 197.0,116.9 197.0,118.1 198.0,118.1 198.0,119.1 199.0,119.1 199.0,120.3 200.0,120.3 200.0,118.2 201.0,118.2 201.0,117.8 202.0,117.8 202.0,117.0 203.0,117.0 203.0,116.1 204.0,116.1 204.0,114.9 205.0,114.9 205.0,115.2 206.0,115.2 206.0,114.1 207.0,114.1 207.0,114.3 208.0,114.3 208.0,115.4 209.0,115.4 209.0,115.2 210.0,115.2 210.0,115.9 211.0,115.9 211.0,116.0 212.0,116.0 212.0,115.4 213.0,115.4 213.0,116.7 214.0,116.7 214.0,116.9 215.0,116.9 215.0,116.6 216.0,116.6 216.0,118.2 217.0,118.2 217.0,118.2 218.0,118.2 218.0,119.0 219.0,119.0 219.0,119.5 220.0,119.5 220.0,119.7 221.0,119.7 221.0,119.5 222.0,119.5 222.0,120.2 223.0,120.2 223.0,119.9 224.0,119.9 224.0,119.7 225.0,119.7 225.0,119.8 226.0,119.8 226.0,120.4 227.0,120.4 227.0,120.8 228.0,120.8 228.0,120.3 229.0,120.3 229.0,120.7 230.0,120.7 230.0,120.3 231.0,120.3 231.0,120.2 232.0,120.2 232.0,119.1 233.0,119.1 233.0,119.6 234.0,119.6 234.0,119.8 235.0,119.8 235.0,120.0 236.0,120.0 236.0,119.8 237.0,119.8 237.0,119.9 238.0,119.9 238.0,119.5 239.0,119.5 239.0,120.2 240.0,120.2 240.0,119.6 241.0,119.6 241.0,120.9 242.0,120.9 242.0,120.6 243.0,120.6 243.0,121.1 244.0,121.1 244.0,121.4 245.0,121.4 245.0,121.5 246.0,121.5 246.0,120.9 247.0,120.9 247.0,121.9 248.0,121.9 248.0,121.3 249.0,121.3 249.0,125.0 250.0,125.0 250.0,134.0 251.0,134.0 251.0,127.2 252.0,127.2 252.0,121.5 253.0,121.5 253.0,120.9 254.0,120.9 254.0,121.9 255.0,121.9 255.0,121.6 256.0,121.6 256.0,121.4 257.0,121.4 257.0,121.5 258.0,121.5 258.0,121.2 259.0,121.2 259.0,120.9 260.0,120.9 260.0,120.5 261.0,120.5 261.0,120.5 262.0,120.5 262.0,119.9 263.0,119.9 263.0,120.3 264.0,120.3 264.0,120.1 265.0,120.1 265.0,120.8 266.0,120.8 266.0,120.9 267.0,120.9 267.0,120.8 268.0,120.8 268.0,121.1 269.0,121.1 269.0,121.0 270.0,121.0 270.0,120.7 271.0,120.7 271.0,119.8 272.0,119.8 272.0,119.9 273.0,119.9 273.0,120.1 274.0,120.1 274.0,115.1 275.0,115.1 275.0,122.4 276.0,122.4 276.0,117.1 277.0,117.1 277.0,123.6 278.0,123.6 278.0,124.0 279.0,124.0 279.0,124.2 280.0,124.2 280.0,124.1 281.0,124.1 281.0,124.2 282.0,124.2 282.0,123.9 283.0,123.9 283.0,124.1 284.0,124.1 284.0,124.2 285.0,124.2 285.0,124.2 286.0,124.2 286.0,124.0 287.0,124.0 287.0,124.0 288.0,124.0 288.0,123.9 289.0,123.9 289.0,124.1 290.0,124.1 290.0,124.1 291.0,124.1 291.0,124.1 292.0,124.1 292.0,124.0 293.0,124.0 293.0,124.1 294.0,124.1 294.0,124.1 295.0,124.1 295.0,124.0 296.0,124.0 296.0,123.9 297.0,123.9 297.0,124.0 298.0,124.0 298.0,124.1 299.0,124.1 299.0,124.2 300.0,124.2 300.0,123.9 301.0,123.9 301.0,124.2 302.0,124.2 302.0,124.2 303.0,124.2 303.0,124.1 304.0,124.1 304.0,123.9 305.0,123.9 305.0,124.1 306.0,124.1 306.0,123.9 307.0,123.9 307.0,122.2 308.0,122.2 308.0,121.7 309.0,121.7 309.0,121.2 310.0,121.2 310.0,121.2 311.0,121.2 311.0,120.5 312.0,120.5 312.0,121.0 313.0,121.0 313.0,121.2 314.0,121.2 314.0,121.5 315.0,121.5 315.0,121.7 316.0,121.7 316.0,121.7 317.0,121.7 317.0,116.9 318.0,116.9 318.0,121.2 319.0,121.2 319.0,121.3 320.0,121.3 320.0,121.2 321.0,121.2 321.0,120.5 322.0,120.5 322.0,120.3 323.0,120.3 323.0,120.8 324.0,120.8 324.0,120.7 325.0,120.7 325.0,120.7 326.0,120.7 326.0,121.0 327.0,121.0 327.0,121.3 328.0,121.3 328.0,121.8 329.0,121.8 329.0,121.7 330.0,121.7 330.0,122.4 331.0,122.4 331.0,122.2 332.0,122.2 332.0,122.8 333.0,122.8 333.0,124.8 334.0,124.8 334.0,130.8 335.0,130.8 335.0,136.2 336.0,136.2 336.0,138.7 337.0,138.7 337.0,142.6 338.0,142.6 338.0,139.3 339.0,139.3 339.0,135.6 340.0,135.6 340.0,137.6 341.0,137.6 341.0,137.1 342.0,137.1 342.0,136.1 343.0,136.1 343.0,137.7 344.0,137.7 344.0,135.2 345.0,135.2 345.0,137.5 346.0,137.5 346.0,137.0 347.0,137.0 347.0,134.1 348.0,134.1 348.0,131.2 349.0,131.2 349.0,115.6 350.0,115.6 350.0,121.6 351.0,121.6 351.0,120.0 352.0,120.0 352.0,119.7 353.0,119.7 353.0,117.8 354.0,117.8 354.0,116.6 355.0,116.6 355.0,115.8 356.0,115.8 356.0,116.3 357.0,116.3 357.0,116.5 358.0,116.5 358.0,116.4 359.0,116.4 359.0,116.9 360.0,116.9 360.0,115.6 361.0,115.6 361.0,116.4 362.0,116.4 362.0,116.4 363.0,116.4 363.0,115.2 364.0,115.2 364.0,114.6 365.0,114.6 365.0,113.1 366.0,113.1 366.0,112.7 367.0,112.7 367.0,111.3 368.0,111.3 368.0,112.4 369.0,112.4 369.0,112.3 370.0,112.3 370.0,112.5 371.0,112.5 371.0,111.4 372.0,111.4 372.0,111.5 373.0,111.5 373.0,113.3 374.0,113.3 374.0,114.9 375.0,114.9 375.0,116.6 376.0,116.6 376.0,118.8 377.0,118.8 377.0,120.5 378.0,120.5 378.0,121.9 379.0,121.9 379.0,122.9 380.0,122.9 380.0,121.6 381.0,121.6 381.0,120.0 382.0,120.0 382.0,118.7 383.0,118.7 383.0,117.9 384.0,117.9 384.0,117.0 385.0,117.0 385.0,117.5 386.0,117.5 386.0,118.9 387.0,118.9 387.0,119.3 388.0,119.3 388.0,119.0 389.0,119.0 389.0,120.1 390.0,120.1 390.0,119.6 391.0,119.6 391.0,119.3 392.0,119.3 392.0,119.0 393.0,119.0 393.0,119.6 394.0,119.6 394.0,119.2 395.0,119.2 395.0,119.8 396.0,119.8 396.0,120.7 397.0,120.7 397.0,121.2 398.0,121.2 398.0,120.5 399.0,120.5 399.0,120.9 400.0,120.9 400.0,121.7 401.0,121.7 401.0,121.3 402.0,121.3 402.0,121.6 403.0,121.6 403.0,121.3 404.0,121.3 404.0,120.4 405.0,120.4 405.0,119.9 406.0,119.9 406.0,119.2 407.0,119.2 407.0,118.6 408.0,118.6 408.0,118.1 409.0,118.1 409.0,117.4 410.0,117.4 410.0,116.7 411.0,116.7 411.0,116.2 412.0,116.2 412.0,117.3 413.0,117.3 413.0,116.1 414.0,116.1 414.0,116.5 415.0,116.5 415.0,115.8 416.0,115.8 416.0,115.6 417.0,115.6 417.0,114.3 418.0,114.3 418.0,114.3 419.0,114.3 419.0,115.0 420.0,115.0 420.0,115.1 421.0,115.1 421.0,116.6 422.0,116.6 422.0,118.2 423.0,118.2 423.0,119.6 424.0,119.6 424.0,120.8 425.0,120.8 425.0,121.5 426.0,121.5 426.0,121.2 427.0,121.2 427.0,120.0 428.0,120.0 428.0,117.5 429.0,117.5 429.0,115.4 430.0,115.4 430.0,113.4 431.0,113.4 431.0,111.6 432.0,111.6 432.0,109.9 433.0,109.9 433.0,109.0 434.0,109.0 434.0,108.1 435.0,108.1 435.0,107.5 436.0,107.5 436.0,108.0 437.0,108.0 437.0,108.1 438.0,108.1 438.0,108.3 439.0,108.3 439.0,109.3 440.0,109.3 440.0,112.3 441.0,112.3 441.0,115.3 442.0,115.3 442.0,115.9 443.0,115.9 443.0,114.9 444.0,114.9 444.0,113.1 445.0,113.1 445.0,111.1 446.0,111.1 446.0,112.8 447.0,112.8 447.0,115.5 448.0,115.5 448.0,117.5 449.0,117.5 449.0,118.9 450.0,118.9 450.0,119.7 451.0,119.7 451.0,120.2 452.0,120.2 452.0,120.1 453.0,120.1 453.0,119.6 454.0,119.6 454.0,118.1 455.0,118.1 455.0,117.5 456.0,117.5 456.0,117.0 457.0,117.0 457.0,116.3 458.0,116.3 458.0,115.7 459.0,115.7 459.0,114.0 460.0,114.0 460.0,113.8 461.0,113.8 461.0,113.3 462.0,113.3 462.0,111.8 463.0,111.8 463.0,111.3 464.0,111.3 464.0,111.1 465.0,111.1 465.0,110.0 466.0,110.0 466.0,109.9 467.0,109.9 467.0,109.2 468.0,109.2 468.0,108.3 469.0,108.3 469.0,109.0 470.0,109.0 470.0,107.3 471.0,107.3 471.0,107.5 472.0,107.5 472.0,106.8 473.0,106.8 473.0,106.0 474.0,106.0 474.0,105.0 475.0,105.0 475.0,105.3 476.0,105.3 476.0,106.0 477.0,106.0 477.0,106.0 478.0,106.0 478.0,106.9 479.0,106.9 479.0,107.1 480.0,107.1 480.0,107.4 481.0,107.4 481.0,107.4 482.0,107.4 482.0,108.4 483.0,108.4 483.0,107.8 484.0,107.8 484.0,108.7 485.0,108.7 485.0,109.0 486.0,109.0 486.0,109.8 487.0,109.8 487.0,109.1 488.0,109.1 488.0,109.6 489.0,109.6 489.0,110.1 490.0,110.1 490.0,111.6 491.0,111.6 491.0,114.0 492.0,114.0 492.0,116.5 493.0,116.5 493.0,116.5 494.0,116.5 494.0,114.5 495.0,114.5 495.0,113.2 496.0,113.2 496.0,111.5 497.0,111.5 497.0,110.5 498.0,110.5 498.0,108.8 499.0,108.8 499.0,109.4 500.0,109.4 500.0,108.8 501.0,108.8 501.0,109.2 502.0,109.2 502.0,110.0 503.0,110.0 503.0,110.6 504.0,110.6 504.0,111.1 505.0,111.1 505.0,111.4 506.0,111.4 506.0,110.9 507.0,110.9 507.0,110.8 508.0,110.8 508.0,111.5 509.0,111.5 509.0,112.3 510.0,112.3 510.0,111.9 511.0,111.9 511.0,112.7 512.0,112.7 512.0,113.4 513.0,113.4 513.0,115.5 514.0,115.5 514.0,117.5 515.0,117.5 515.0,119.6 516.0,119.6 516.0,119.6 517.0,119.6 517.0,118.1 518.0,118.1 518.0,115.6 519.0,115.6 519.0,114.4 520.0,114.4 520.0,114.3 521.0,114.3 521.0,114.0 522.0,114.0 522.0,116.0 523.0,116.0 523.0,118.3 524.0,118.3 524.0,120.1 525.0,120.1 525.0,121.3 526.0,121.3 526.0,121.9 527.0,121.9 527.0,122.8 528.0,122.8 528.0,118.7 529.0,118.7 529.0,122.4 530.0,122.4 530.0,123.8 531.0,123.8 531.0,124.0 532.0,124.0 532.0,124.0 533.0,124.0 533.0,124.1 534.0,124.1 534.0,124.3 535.0,124.3 535.0,124.3 536.0,124.3 536.0,124.4 537.0,124.4 537.0,206.0 536.0,206.0 536.0,206.1 535.0,206.1 535.0,206.1 534.0,206.1 534.0,206.0 533.0,206.0 533.0,206.1 532.0,206.1 532.0,205.9 531.0,205.9 531.0,205.8 530.0,205.8 530.0,205.6 529.0,205.6 529.0,194.6 528.0,194.6 528.0,189.2 527.0,189.2 527.0,188.0 526.0,188.0 526.0,187.5 525.0,187.5 525.0,186.7 524.0,186.7 524.0,185.7 523.0,185.7 523.0,183.4 522.0,183.4 522.0,181.8 521.0,181.8 521.0,181.7 520.0,181.7 520.0,180.2 519.0,180.2 519.0,182.0 518.0,182.0 518.0,183.8 517.0,183.8 517.0,185.0 516.0,185.0 516.0,186.0 515.0,186.0 515.0,184.3 514.0,184.3 514.0,181.4 513.0,181.4 513.0,180.3 512.0,180.3 512.0,179.7 511.0,179.7 511.0,179.9 510.0,179.9 510.0,179.8 509.0,179.8 509.0,179.1 508.0,179.1 508.0,179.2 507.0,179.2 507.0,178.7 506.0,178.7 506.0,179.4 505.0,179.4 505.0,179.3 504.0,179.3 504.0,179.4 503.0,179.4 503.0,179.4 502.0,179.4 502.0,180.0 501.0,180.0 501.0,178.9 500.0,178.9 500.0,178.9 499.0,178.9 499.0,179.5 498.0,179.5 498.0,179.3 497.0,179.3 497.0,179.6 496.0,179.6 496.0,180.6 495.0,180.6 495.0,181.3 494.0,181.3 494.0,183.1 493.0,183.1 493.0,182.3 492.0,182.3 492.0,180.4 491.0,180.4 491.0,179.0 490.0,179.0 490.0,178.3 489.0,178.3 489.0,178.1 488.0,178.1 488.0,177.2 487.0,177.2 487.0,176.8 486.0,176.8 486.0,176.6 485.0,176.6 485.0,175.6 484.0,175.6 484.0,175.1 483.0,175.1 483.0,175.0 482.0,175.0 482.0,175.0 481.0,175.0 481.0,175.1 480.0,175.1 480.0,174.6 479.0,174.6 479.0,173.3 478.0,173.3 478.0,173.5 477.0,173.5 477.0,172.7 476.0,172.7 476.0,172.8 475.0,172.8 475.0,172.6 474.0,172.6 474.0,173.4 473.0,173.4 473.0,173.7 472.0,173.7 472.0,174.8 471.0,174.8 471.0,175.6 470.0,175.6 470.0,176.5 469.0,176.5 469.0,177.1 468.0,177.1 468.0,177.5 467.0,177.5 467.0,177.6 466.0,177.6 466.0,178.0 465.0,178.0 465.0,178.7 464.0,178.7 464.0,180.0 463.0,180.0 463.0,180.0 462.0,180.0 462.0,180.0 461.0,180.0 461.0,180.6 460.0,180.6 460.0,181.6 459.0,181.6 459.0,182.3 458.0,182.3 458.0,183.9 457.0,183.9 457.0,183.6 456.0,183.6 456.0,185.3 455.0,185.3 455.0,185.5 454.0,185.5 454.0,186.9 453.0,186.9 453.0,188.4 452.0,188.4 452.0,189.4 451.0,189.4 451.0,188.7 450.0,188.7 450.0,186.2 449.0,186.2 449.0,184.7 448.0,184.7 448.0,181.9 447.0,181.9 447.0,180.9 446.0,180.9 446.0,181.0 445.0,181.0 445.0,182.1 444.0,182.1 444.0,183.7 443.0,183.7 443.0,183.9 442.0,183.9 442.0,182.6 441.0,182.6 441.0,181.0 440.0,181.0 440.0,178.7 439.0,178.7 439.0,178.1 438.0,178.1 438.0,178.2 437.0,178.2 437.0,178.0 436.0,178.0 436.0,178.9 435.0,178.9 435.0,178.2 434.0,178.2 434.0,178.7 433.0,178.7 433.0,180.2 432.0,180.2 432.0,180.8 431.0,180.8 431.0,182.1 430.0,182.1 430.0,183.2 429.0,183.2 429.0,185.8 428.0,185.8 428.0,186.6 427.0,186.6 427.0,188.2 426.0,188.2 426.0,188.7 425.0,188.7 425.0,188.4 424.0,188.4 424.0,186.6 423.0,186.6 423.0,185.3 422.0,185.3 422.0,184.0 421.0,184.0 421.0,182.5 420.0,182.5 420.0,181.8 419.0,181.8 419.0,182.1 418.0,182.1 418.0,182.0 417.0,182.0 417.0,181.9 416.0,181.9 416.0,182.3 415.0,182.3 415.0,183.3 414.0,183.3 414.0,183.0 413.0,183.0 413.0,183.9 412.0,183.9 412.0,184.3 411.0,184.3 411.0,184.6 410.0,184.6 410.0,184.9 409.0,184.9 409.0,185.0 408.0,185.0 408.0,185.9 407.0,185.9 407.0,186.8 406.0,186.8 406.0,187.3 405.0,187.3 405.0,188.2 404.0,188.2 404.0,188.4 403.0,188.4 403.0,188.7 402.0,188.7 402.0,189.5 401.0,189.5 401.0,189.0 400.0,189.0 400.0,188.3 399.0,188.3 399.0,188.3 398.0,188.3 398.0,189.0 397.0,189.0 397.0,187.8 396.0,187.8 396.0,187.8 395.0,187.8 395.0,188.1 394.0,188.1 394.0,187.4 393.0,187.4 393.0,187.3 392.0,187.3 392.0,187.1 391.0,187.1 391.0,186.7 390.0,186.7 390.0,187.1 389.0,187.1 389.0,187.2 388.0,187.2 388.0,186.9 387.0,186.9 387.0,186.2 386.0,186.2 386.0,186.2 385.0,186.2 385.0,184.9 384.0,184.9 384.0,184.8 383.0,184.8 383.0,186.2 382.0,186.2 382.0,186.8 381.0,186.8 381.0,187.9 380.0,187.9 380.0,188.5 379.0,188.5 379.0,188.6 378.0,188.6 378.0,188.0 377.0,188.0 377.0,186.9 376.0,186.9 376.0,185.5 375.0,185.5 375.0,183.7 374.0,183.7 374.0,181.6 373.0,181.6 373.0,181.3 372.0,181.3 372.0,180.9 371.0,180.9 371.0,180.8 370.0,180.8 370.0,180.7 369.0,180.7 369.0,180.0 368.0,180.0 368.0,181.2 367.0,181.2 367.0,181.5 366.0,181.5 366.0,181.8 365.0,181.8 365.0,182.0 364.0,182.0 364.0,181.5 363.0,181.5 363.0,181.8 362.0,181.8 362.0,182.9 361.0,182.9 361.0,182.9 360.0,182.9 360.0,183.2 359.0,183.2 359.0,182.4 358.0,182.4 358.0,182.1 357.0,182.1 357.0,182.8 356.0,182.8 356.0,183.6 355.0,183.6 355.0,184.1 354.0,184.1 354.0,185.9 353.0,185.9 353.0,187.2 352.0,187.2 352.0,189.3 351.0,189.3 351.0,190.8 350.0,190.8 350.0,196.8 349.0,196.8 349.0,196.4 348.0,196.4 348.0,191.4 347.0,191.4 347.0,196.1 346.0,196.1 346.0,192.8 345.0,192.8 345.0,191.8 344.0,191.8 344.0,193.9 343.0,193.9 343.0,202.0 342.0,202.0 342.0,193.8 341.0,193.8 341.0,191.6 340.0,191.6 340.0,192.9 339.0,192.9 339.0,195.8 338.0,195.8 338.0,191.3 337.0,191.3 337.0,194.2 336.0,194.2 336.0,192.9 335.0,192.9 335.0,189.7 334.0,189.7 334.0,189.3 333.0,189.3 333.0,188.8 332.0,188.8 332.0,188.8 331.0,188.8 331.0,189.2 330.0,189.2 330.0,189.5 329.0,189.5 329.0,189.9 328.0,189.9 328.0,189.3 327.0,189.3 327.0,189.0 326.0,189.0 326.0,189.5 325.0,189.5 325.0,189.8 324.0,189.8 324.0,189.4 323.0,189.4 323.0,188.6 322.0,188.6 322.0,189.2 321.0,189.2 321.0,188.6 320.0,188.6 320.0,188.8 319.0,188.8 319.0,190.3 318.0,190.3 318.0,193.3 317.0,193.3 317.0,195.4 316.0,195.4 316.0,190.3 315.0,190.3 315.0,190.0 314.0,190.0 314.0,190.2 313.0,190.2 313.0,190.3 312.0,190.3 312.0,189.7 311.0,189.7 311.0,188.8 310.0,188.8 310.0,189.2 309.0,189.2 309.0,190.0 308.0,190.0 308.0,195.6 307.0,195.6 307.0,205.6 306.0,205.6 306.0,205.7 305.0,205.7 305.0,205.5 304.0,205.5 304.0,205.7 303.0,205.7 303.0,205.4 302.0,205.4 302.0,205.5 301.0,205.5 301.0,205.6 300.0,205.6 300.0,205.6 299.0,205.6 299.0,205.7 298.0,205.7 298.0,205.5 297.0,205.5 297.0,205.4 296.0,205.4 296.0,205.6 295.0,205.6 295.0,205.7 294.0,205.7 294.0,205.6 293.0,205.6 293.0,205.7 292.0,205.7 292.0,205.4 291.0,205.4 291.0,205.5 290.0,205.5 290.0,205.5 289.0,205.5 289.0,205.5 288.0,205.5 288.0,205.5 287.0,205.5 287.0,205.5 286.0,205.5 286.0,205.5 285.0,205.5 285.0,205.5 284.0,205.5 284.0,205.6 283.0,205.6 283.0,205.7 282.0,205.7 282.0,205.5 281.0,205.5 281.0,205.4 280.0,205.4 280.0,205.6 279.0,205.6 279.0,205.4 278.0,205.4 278.0,205.5 277.0,205.5 277.0,203.5 276.0,203.5 276.0,189.4 275.0,189.4 275.0,189.0 274.0,189.0 274.0,188.1 273.0,188.1 273.0,188.1 272.0,188.1 272.0,188.3 271.0,188.3 271.0,188.8 270.0,188.8 270.0,188.4 269.0,188.4 269.0,189.3 268.0,189.3 268.0,188.4 267.0,188.4 267.0,189.3 266.0,189.3 266.0,188.7 265.0,188.7 265.0,188.4 264.0,188.4 264.0,188.3 263.0,188.3 263.0,188.1 262.0,188.1 262.0,189.0 261.0,189.0 261.0,189.0 260.0,189.0 260.0,189.2 259.0,189.2 259.0,189.7 258.0,189.7 258.0,188.6 257.0,188.6 257.0,188.8 256.0,188.8 256.0,189.3 255.0,189.3 255.0,188.7 254.0,188.7 254.0,189.3 253.0,189.3 253.0,189.5 252.0,189.5 252.0,198.9 251.0,198.9 251.0,203.9 250.0,203.9 250.0,201.8 249.0,201.8 249.0,189.7 248.0,189.7 248.0,189.4 247.0,189.4 247.0,189.6 246.0,189.6 246.0,189.5 245.0,189.5 245.0,189.7 244.0,189.7 244.0,189.0 243.0,189.0 243.0,189.8 242.0,189.8 242.0,188.6 241.0,188.6 241.0,189.6 240.0,189.6 240.0,189.0 239.0,189.0 239.0,188.8 238.0,188.8 238.0,188.4 237.0,188.4 237.0,188.3 236.0,188.3 236.0,187.8 235.0,187.8 235.0,188.0 234.0,188.0 234.0,188.6 233.0,188.6 233.0,188.0 232.0,188.0 232.0,188.3 231.0,188.3 231.0,189.1 230.0,189.1 230.0,189.2 229.0,189.2 229.0,188.5 228.0,188.5 228.0,188.9 227.0,188.9 227.0,189.0 226.0,189.0 226.0,190.0 225.0,190.0 225.0,189.3 224.0,189.3 224.0,189.9 223.0,189.9 223.0,189.1 222.0,189.1 222.0,189.1 221.0,189.1 221.0,187.9 220.0,187.9 220.0,187.5 219.0,187.5 219.0,187.2 218.0,187.2 218.0,186.8 217.0,186.8 217.0,186.4 216.0,186.4 216.0,185.3 215.0,185.3 215.0,185.5 214.0,185.5 214.0,184.9 213.0,184.9 213.0,183.9 212.0,183.9 212.0,184.0 211.0,184.0 211.0,183.1 210.0,183.1 210.0,182.9 209.0,182.9 209.0,182.1 208.0,182.1 208.0,182.9 207.0,182.9 207.0,181.9 206.0,181.9 206.0,183.1 205.0,183.1 205.0,183.4 204.0,183.4 204.0,183.9 203.0,183.9 203.0,185.6 202.0,185.6 202.0,186.4 201.0,186.4 201.0,188.0 200.0,188.0 200.0,188.1 199.0,188.1 199.0,187.0 198.0,187.0 198.0,186.1 197.0,186.1 197.0,185.0 196.0,185.0 196.0,184.8 195.0,184.8 195.0,184.1 194.0,184.1 194.0,185.2 193.0,185.2 193.0,186.5 192.0,186.5 192.0,188.2 191.0,188.2 191.0,188.8 190.0,188.8 190.0,188.7 189.0,188.7 189.0,190.1 188.0,190.1 188.0,189.4 187.0,189.4 187.0,189.0 186.0,189.0 186.0,188.5 185.0,188.5 185.0,187.5 184.0,187.5 184.0,187.4 183.0,187.4 183.0,186.5 182.0,186.5 182.0,185.5 181.0,185.5 181.0,183.7 180.0,183.7 180.0,182.9 179.0,182.9 179.0,181.9 178.0,181.9 178.0,181.9 177.0,181.9 177.0,180.7 176.0,180.7 176.0,180.5 175.0,180.5 175.0,181.0 174.0,181.0 174.0,180.5 173.0,180.5 173.0,181.6 172.0,181.6 172.0,181.7 171.0,181.7 171.0,182.4 170.0,182.4 170.0,184.2 169.0,184.2 169.0,184.8 168.0,184.8 168.0,185.6 167.0,185.6 167.0,186.4 166.0,186.4 166.0,188.2 165.0,188.2 165.0,188.3 164.0,188.3 164.0,188.7 163.0,188.7 163.0,189.0 162.0,189.0 162.0,190.4 161.0,190.4 161.0,190.1 160.0,190.1 160.0,189.5 159.0,189.5 159.0,190.2 158.0,190.2 158.0,189.6 157.0,189.6 157.0,189.3 156.0,189.3 156.0,188.6 155.0,188.6 155.0,188.6 154.0,188.6 154.0,189.1 153.0,189.1 153.0,189.0 152.0,189.0 152.0,188.1 151.0,188.1 151.0,187.4 150.0,187.4 150.0,187.5 149.0,187.5 149.0,186.9 148.0,186.9 148.0,187.2 147.0,187.2 147.0,186.5 146.0,186.5 146.0,187.1 145.0,187.1 145.0,188.0 144.0,188.0 144.0,189.3 143.0,189.3 143.0,190.2 142.0,190.2 142.0,189.7 141.0,189.7 141.0,189.9 140.0,189.9 140.0,189.8 139.0,189.8 139.0,189.1 138.0,189.1 138.0,189.2 137.0,189.2 137.0,189.6 136.0,189.6 136.0,188.8 135.0,188.8 135.0,189.3 134.0,189.3 134.0,191.2 133.0,191.2 133.0,196.3 132.0,196.3 132.0,196.5 131.0,196.5 131.0,196.3 130.0,196.3 130.0,196.4 129.0,196.4 129.0,196.2 128.0,196.2 128.0,196.2 127.0,196.2 127.0,196.2 126.0,196.2 126.0,196.4 125.0,196.4 125.0,196.3 124.0,196.3 124.0,196.2 123.0,196.2 123.0,196.1 122.0,196.1 122.0,196.3 121.0,196.3 121.0,196.2 120.0,196.2 120.0,196.0 119.0,196.0 119.0,195.9 118.0,195.9 118.0,196.0 117.0,196.0 117.0,196.0 116.0,196.0 116.0,193.0 115.0,193.0 115.0,190.4 114.0,190.4 114.0,189.8 113.0,189.8 113.0,188.6 112.0,188.6 112.0,188.4 111.0,188.4 111.0,187.8 110.0,187.8 110.0,187.9 109.0,187.9 109.0,186.4 108.0,186.4 108.0,186.4 107.0,186.4 107.0,185.7 106.0,185.7 106.0,186.1 105.0,186.1 105.0,187.2 104.0,187.2 104.0,187.8 103.0,187.8 103.0,187.5 102.0,187.5 102.0,187.9 101.0,187.9 101.0,188.4 100.0,188.4 100.0,190.0 99.0,190.0 99.0,189.3 98.0,189.3 98.0,189.7 97.0,189.7 97.0,189.5 96.0,189.5 96.0,189.7 95.0,189.7 95.0,189.7 94.0,189.7 94.0,189.8 93.0,189.8 93.0,189.5 92.0,189.5 92.0,189.2 91.0,189.2 91.0,189.6 90.0,189.6 90.0,188.4 89.0,188.4 89.0,187.1 88.0,187.1 88.0,186.6 87.0,186.6 87.0,185.5 86.0,185.5 86.0,185.5 85.0,185.5 85.0,185.4 84.0,185.4 84.0,185.9 83.0,185.9 83.0,185.9 82.0,185.9 82.0,186.1 81.0,186.1 81.0,186.7 80.0,186.7 80.0,187.6 79.0,187.6 79.0,188.1 78.0,188.1 78.0,188.0 77.0,188.0 77.0,188.4 76.0,188.4 76.0,189.0 75.0,189.0 75.0,188.6 74.0,188.6 74.0,206.9 73.0,206.9 73.0,206.9 72.0,206.9 72.0,206.9 71.0,206.9 71.0,207.0 70.0,207.0 70.0,206.9 69.0,206.9"/>
<polygon fill="#ff0000" points="69.0,145.6 70.0,145.6 70.0,145.5 71.0,145.5 71.0,145.7 72.0,145.7 72.0,145.6 73.0,145.6 73.0,145.5 74.0,145.5 74.0,138.3 75.0,138.3 75.0,137.7 76.0,137.7 76.0,137.2 77.0,137.2 77.0,136.5 78.0,136.5 78.0,136.6 79.0,136.6 79.0,136.2 80.0,136.2 80.0,135.9 81.0,135.9 81.0,134.8 82.0,134.8 82.0,133.7 83.0,133.7 83.0,132.8 84.0,132.8 84.0,131.5 85.0,131.5 85.0,132.6 86.0,132.6 86.0,132.9 87.0,132.9 87.0,134.5 88.0,134.5 88.0,134.9 89.0,134.9 89.0,135.5 90.0,135.5 90.0,136.8 91.0,136.8 91.0,137.3 92.0,137.3 92.0,137.7 93.0,137.7 93.0,137.7 94.0,137.7 94.0,137.7 95.0,137.7 95.0,137.3 96.0,137.3 96.0,138.1 97.0,138.1 97.0,137.6 98.0,137.6 98.0,138.0 99.0,138.0 99.0,137.5 100.0,137.5 100.0,137.1 101.0,137.1 101.0,135.9 102.0,135.9 102.0,135.9 103.0,135.9 103.0,134.9 104.0,134.9 104.0,134.6 105.0,134.6 105.0,134.4 106.0,134.4 106.0,133.9 107.0,133.9 107.0,134.4 108.0,134.4 108.0,134.2 109.0,134.2 109.0,134.9 110.0,134.9 110.0,136.1 111.0,136.1 111.0,136.6 112.0,136.6 112.0,136.8 113.0,136.8 113.0,137.2 114.0,137.2 114.0,137.3 115.0,137.3 115.0,138.4 116.0,138.4 116.0,142.0 117.0,142.0 117.0,142.0 118.0,142.0 118.0,142.1 119.0,142.1 119.0,141.9 120.0,141.9 120.0,142.2 121.0,142.2 121.0,142.1 122.0,142.1 122.0,142.1 123.0,142.1 123.0,142.2 124.0,142.2 124.0,142.1 125.0,142.1 125.0,141.9 126.0,141.9 126.0,142.1 127.0,142.1 127.0,142.0 128.0,142.0 128.0,141.9 129.0,141.9 129.0,142.2 130.0,142.2 130.0,142.0 131.0,142.0 131.0,142.0 132.0,142.0 132.0,141.9 133.0,141.9 133.0,140.1 134.0,140.1 134.0,138.0 135.0,138.0 135.0,137.9 136.0,137.9 136.0,137.5 137.0,137.5 137.0,137.6 138.0,137.6 138.0,137.1 139.0,137.1 139.0,137.4 140.0,137.4 140.0,138.2 141.0,138.2 141.0,138.4 142.0,138.4 142.0,138.4 143.0,138.4 143.0,136.7 144.0,136.7 144.0,136.9 145.0,136.9 145.0,135.3 146.0,135.3 146.0,135.8 147.0,135.8 147.0,134.3 148.0,134.3 148.0,135.5 149.0,135.5 149.0,135.8 150.0,135.8 150.0,136.2 151.0,136.2 151.0,135.9 152.0,135.9 152.0,136.8 153.0,136.8 153.0,137.0 154.0,137.0 154.0,137.4 155.0,137.4 155.0,136.9 156.0,136.9 156.0,137.5 157.0,137.5 157.0,137.3 158.0,137.3 158.0,138.1 159.0,138.1 159.0,137.5 160.0,137.5 160.0,138.2 161.0,138.2 161.0,137.0 162.0,137.0 162.0,137.7 163.0,137.7 163.0,136.7 164.0,136.7 164.0,136.5 165.0,136.5 165.0,135.9 166.0,135.9 166.0,135.0 167.0,135.0 167.0,134.7 168.0,134.7 168.0,133.2 169.0,133.2 169.0,131.3 170.0,131.3 170.0,129.4 171.0,129.4 171.0,129.0 172.0,129.0 172.0,129.1 173.0,129.1 173.0,128.7 174.0,128.7 174.0,128.9 175.0,128.9 175.0,129.0 176.0,129.0 176.0,128.5 177.0,128.5 177.0,129.9 178.0,129.9 178.0,130.7 179.0,130.7 179.0,130.8 180.0,130.8 180.0,131.7 181.0,131.7 181.0,133.7 182.0,133.7 182.0,134.0 183.0,134.0 183.0,135.1 184.0,135.1 184.0,136.7 185.0,136.7 185.0,137.1 186.0,137.1 186.0,136.8 187.0,136.8 187.0,137.9 188.0,137.9 188.0,137.9 189.0,137.9 189.0,137.5 190.0,137.5 190.0,136.6 191.0,136.6 191.0,136.7 192.0,136.7 192.0,135.4 193.0,135.4 193.0,133.7 194.0,133.7 194.0,131.8 195.0,131.8 195.0,132.2 196.0,132.2 196.0,133.5 197.0,133.5 197.0,134.1 198.0,134.1 198.0,136.1 199.0,136.1 199.0,136.8 200.0,136.8 200.0,135.8 201.0,135.8 201.0,135.3 202.0,135.3 202.0,134.1 203.0,134.1 203.0,132.8 204.0,132.8 204.0,131.3 205.0,131.3 205.0,130.7 206.0,130.7 206.0,131.5 207.0,131.5 207.0,130.9 208.0,130.9 208.0,131.4 209.0,131.4 209.0,131.2 210.0,131.2 210.0,132.2 211.0,132.2 211.0,132.1 212.0,132.1 212.0,132.8 213.0,132.8 213.0,133.6 214.0,133.6 214.0,133.5 215.0,133.5 215.0,133.9 216.0,133.9 216.0,134.0 217.0,134.0 217.0,135.5 218.0,135.5 218.0,136.1 219.0,136.1 219.0,135.5 220.0,135.5 220.0,136.7 221.0,136.7 221.0,137.0 222.0,137.0 222.0,137.5 223.0,137.5 223.0,137.5 224.0,137.5 224.0,137.8 225.0,137.8 225.0,137.8 226.0,137.8 226.0,137.5 227.0,137.5 227.0,138.0 228.0,138.0 228.0,137.9 229.0,137.9 229.0,137.2 230.0,137.2 230.0,136.3 231.0,136.3 231.0,136.6 232.0,136.6 232.0,136.9 233.0,136.9 233.0,136.9 234.0,136.9 234.0,136.2 235.0,136.2 235.0,136.2 236.0,136.2 236.0,136.7 237.0,136.7 237.0,136.9 238.0,136.9 238.0,137.4 239.0,137.4 239.0,136.6 240.0,136.6 240.0,137.6 241.0,137.6 241.0,137.6 242.0,137.6 242.0,137.5 243.0,137.5 243.0,137.1 244.0,137.1 244.0,138.2 245.0,138.2 245.0,137.4 246.0,137.4 246.0,137.6 247.0,137.6 247.0,138.5 248.0,138.5 248.0,138.4 249.0,138.4 249.0,137.8 250.0,137.8 250.0,142.7 251.0,142.7 251.0,138.7 252.0,138.7 252.0,137.6 253.0,137.6 253.0,138.4 254.0,138.4 254.0,138.4 255.0,138.4 255.0,138.6 256.0,138.6 256.0,138.5 257.0,138.5 257.0,138.1 258.0,138.1 258.0,137.9 259.0,137.9 259.0,137.4 260.0,137.4 260.0,138.1 261.0,138.1 261.0,137.5 262.0,137.5 262.0,137.9 263.0,137.9 263.0,137.2 264.0,137.2 264.0,137.8 265.0,137.8 265.0,137.5 266.0,137.5 266.0,138.0 267.0,138.0 267.0,137.7 268.0,137.7 268.0,138.1 269.0,138.1 269.0,138.0 270.0,138.0 270.0,137.8 271.0,137.8 271.0,137.4 272.0,137.4 272.0,137.3 273.0,137.3 273.0,137.5 274.0,137.5 274.0,137.7 275.0,137.7 275.0,139.1 276.0,139.1 276.0,141.5 277.0,141.5 277.0,145.5 278.0,145.5 278.0,145.7 279.0,145.7 279.0,145.6 280.0,145.6 280.0,145.8 281.0,145.8 281.0,145.6 282.0,145.6 282.0,145.8 283.0,145.8 283.0,145.7 284.0,145.7 284.0,145.5 285.0,145.5 285.0,145.6 286.0,145.6 286.0,145.7 287.0,145.7 287.0,145.8 288.0,145.8 288.0,145.7 289.0,145.7 289.0,145.5 290.0,145.5 290.0,145.8 291.0,145.8 291.0,145.6 292.0,145.6 292.0,145.5 293.0,145.5 293.0,145.8 294.0,145.8 294.0,145.7 295.0,145.7 295.0,145.7 296.0,145.7 296.0,145.7 297.0,145.7 297.0,145.5 298.0,145.5 298.0,145.5 299.0,145.5 299.0,145.5 300.0,145.5 300.0,145.7 301.0,145.7 301.0,145.5 302.0,145.5 302.0,145.6 303.0,145.6 303.0,145.7 304.0,145.7 304.0,145.6 305.0,145.6 305.0,145.7 306.0,145.7 306.0,145.6 307.0,145.6 307.0,140.5 308.0,140.5 308.0,138.3 309.0,138.3 309.0,138.5 310.0,138.5 310.0,137.8 311.0,137.8 311.0,137.8 312.0,137.8 312.0,137.7 313.0,137.7 313.0,138.7 314.0,138.7 314.0,138.0 315.0,138.0 315.0,138.3 316.0,138.3 316.0,137.8 317.0,137.8 317.0,138.6 318.0,138.6 318.0,138.2 319.0,138.2 319.0,137.9 320.0,137.9 320.0,137.4 321.0,137.4 321.0,138.1 322.0,138.1 322.0,138.1 323.0,138.1 323.0,138.2 324.0,138.2 324.0,137.6 325.0,137.6 325.0,137.8 326.0,137.8 326.0,137.8 327.0,137.8 327.0,137.9 328.0,137.9 328.0,138.6 329.0,138.6 329.0,138.0 330.0,138.0 330.0,138.5 331.0,138.5 331.0,138.4 332.0,138.4 332.0,138.6 333.0,138.6 333.0,138.4 334.0,138.4 334.0,143.8 335.0,143.8 335.0,143.7 336.0,143.7 336.0,143.6 337.0,143.6 337.0,143.7 338.0,143.7 338.0,143.6 339.0,143.6 339.0,143.6 340.0,143.6 340.0,143.6 341.0,143.6 341.0,143.6 342.0,143.6 342.0,143.7 343.0,143.7 343.0,143.8 344.0,143.8 344.0,143.7 345.0,143.7 345.0,143.6 346.0,143.6 346.0,143.6 347.0,143.6 347.0,143.6 348.0,143.6 348.0,141.9 349.0,141.9 349.0,138.8 350.0,138.8 350.0,136.9 351.0,136.9 351.0,136.5 352.0,136.5 352.0,134.7 353.0,134.7 353.0,133.5 354.0,133.5 354.0,132.4 355.0,132.4 355.0,131.4 356.0,131.4 356.0,130.6 357.0,130.6 357.0,130.6 358.0,130.6 358.0,130.6 359.0,130.6 359.0,131.2 360.0,131.2 360.0,130.9 361.0,130.9 361.0,130.6 362.0,130.6 362.0,131.3 363.0,131.3 363.0,130.9 364.0,130.9 364.0,130.7 365.0,130.7 365.0,130.8 366.0,130.8 366.0,130.4 367.0,130.4 367.0,130.1 368.0,130.1 368.0,129.2 369.0,129.2 369.0,129.0 370.0,129.0 370.0,129.1 371.0,129.1 371.0,129.3 372.0,129.3 372.0,129.1 373.0,129.1 373.0,130.4 374.0,130.4 374.0,131.6 375.0,131.6 375.0,133.5 376.0,133.5 376.0,134.4 377.0,134.4 377.0,136.2 378.0,136.2 378.0,137.3 379.0,137.3 379.0,138.6 380.0,138.6 380.0,137.7 381.0,137.7 381.0,136.4 382.0,136.4 382.0,135.1 383.0,135.1 383.0,134.2 384.0,134.2 384.0,134.5 385.0,134.5 385.0,135.2 386.0,135.2 386.0,136.5 387.0,136.5 387.0,136.4 388.0,136.4 388.0,137.0 389.0,137.0 389.0,137.5 390.0,137.5 390.0,137.2 391.0,137.2 391.0,136.0 392.0,136.0 392.0,135.9 393.0,135.9 393.0,136.9 394.0,136.9 394.0,136.7 395.0,136.7 395.0,136.8 396.0,136.8 396.0,137.6 397.0,137.6 397.0,138.2 398.0,138.2 398.0,138.2 399.0,138.2 399.0,138.3 400.0,138.3 400.0,138.4 401.0,138.4 401.0,138.5 402.0,138.5 402.0,138.3 403.0,138.3 403.0,138.4 404.0,138.4 404.0,138.0 405.0,138.0 405.0,136.4 406.0,136.4 406.0,136.7 407.0,136.7 407.0,135.8 408.0,135.8 408.0,135.3 409.0,135.3 409.0,134.6 410.0,134.6 410.0,133.7 411.0,133.7 411.0,133.3 412.0,133.3 412.0,132.6 413.0,132.6 413.0,132.3 414.0,132.3 414.0,131.9 415.0,131.9 415.0,132.2 416.0,132.2 416.0,131.4 417.0,131.4 417.0,131.7 418.0,131.7 418.0,130.8 419.0,130.8 419.0,131.8 420.0,131.8 420.0,132.4 421.0,132.4 421.0,133.5 422.0,133.5 422.0,134.7 423.0,134.7 423.0,136.3 424.0,136.3 424.0,136.6 425.0,136.6 425.0,137.8 426.0,137.8 426.0,137.2 427.0,137.2 427.0,135.5 428.0,135.5 428.0,134.8 429.0,134.8 429.0,132.3 430.0,132.3 430.0,130.6 431.0,130.6 431.0,128.2 432.0,128.2 432.0,127.9 433.0,127.9 433.0,127.0 434.0,127.0 434.0,126.7 435.0,126.7 435.0,125.2 436.0,125.2 436.0,125.4 437.0,125.4 437.0,125.5 438.0,125.5 438.0,124.9 439.0,124.9 439.0,126.0 440.0,126.0 440.0,128.0 441.0,128.0 441.0,130.6 442.0,130.6 442.0,132.2 443.0,132.2 443.0,132.1 444.0,132.1 444.0,131.3 445.0,131.3 445.0,129.8 446.0,129.8 446.0,130.1 447.0,130.1 447.0,131.0 448.0,131.0 448.0,133.4 449.0,133.4 449.0,135.3 450.0,135.3 450.0,137.6 451.0,137.6 451.0,136.9 452.0,136.9 452.0,136.7 453.0,136.7 453.0,136.2 454.0,136.2 454.0,134.3 455.0,134.3 455.0,133.6 456.0,133.6 456.0,132.9 457.0,132.9 457.0,132.1 458.0,132.1 458.0,130.4 459.0,130.4 459.0,130.3 460.0,130.3 460.0,129.2 461.0,129.2 461.0,127.9 462.0,127.9 462.0,127.4 463.0,127.4 463.0,127.6 464.0,127.6 464.0,126.4 465.0,126.4 465.0,125.9 466.0,125.9 466.0,125.6 467.0,125.6 467.0,124.3 468.0,124.3 468.0,123.6 469.0,123.6 469.0,123.8 470.0,123.8 470.0,122.8 471.0,122.8 471.0,121.7 472.0,121.7 472.0,121.7 473.0,121.7 473.0,121.2 474.0,121.2 474.0,120.7 475.0,120.7 475.0,119.7 476.0,119.7 476.0,120.1 477.0,120.1 477.0,121.7 478.0,121.7 478.0,122.0 479.0,122.0 479.0,122.6 480.0,122.6 480.0,123.1 481.0,123.1 481.0,123.4 482.0,123.4 482.0,123.3 483.0,123.3 483.0,123.4 484.0,123.4 484.0,123.5 485.0,123.5 485.0,123.8 486.0,123.8 486.0,125.0 487.0,125.0 487.0,125.1 488.0,125.1 488.0,125.4 489.0,125.4 489.0,125.2 490.0,125.2 490.0,126.7 491.0,126.7 491.0,129.2 492.0,129.2 492.0,131.8 493.0,131.8 493.0,132.4 494.0,132.4 494.0,131.0 495.0,131.0 495.0,129.5 496.0,129.5 496.0,127.4 497.0,127.4 497.0,126.9 498.0,126.9 498.0,127.0 499.0,127.0 499.0,126.5 500.0,126.5 500.0,127.3 501.0,127.3 501.0,127.7 502.0,127.7 502.0,128.1 503.0,128.1 503.0,127.6 504.0,127.6 504.0,128.4 505.0,128.4 505.0,128.9 506.0,128.9 506.0,129.2 507.0,129.2 507.0,129.8 508.0,129.8 508.0,129.4 509.0,129.4 509.0,130.1 510.0,130.1 510.0,129.5 511.0,129.5 511.0,130.3 512.0,130.3 512.0,131.5 513.0,131.5 513.0,133.6 514.0,133.6 514.0,135.8 515.0,135.8 515.0,136.5 516.0,136.5 516.0,137.4 517.0,137.4 517.0,134.9 518.0,134.9 518.0,132.9 519.0,132.9 519.0,131.9 520.0,131.9 520.0,131.3 521.0,131.3 521.0,132.8 522.0,132.8 522.0,133.8 523.0,133.8 523.0,136.4 524.0,136.4 524.0,137.0 525.0,137.0 525.0,139.4 526.0,139.4 526.0,140.1 527.0,140.1 527.0,140.7 528.0,140.7 528.0,142.0 529.0,142.0 529.0,145.4 530.0,145.4 530.0,147.2 531.0,147.2 531.0,147.2 532.0,147.2 532.0,146.2 533.0,146.2 533.0,147.9 534.0,147.9 534.0,147.7 535.0,147.7 535.0,147.4 536.0,147.4 536.0,147.2 537.0,147.2 537.0,186.2 536.0,186.2 536.0,186.3 535.0,186.3 535.0,186.5 534.0,186.5 534.0,186.8 533.0,186.8 533.0,186.9 532.0,186.9 532.0,186.8 531.0,186.8 531.0,186.5 530.0,186.5 530.0,186.0 529.0,186.0 529.0,182.1 528.0,182.1 528.0,178.1 527.0,178.1 527.0,175.1 526.0,175.1 526.0,172.4 525.0,172.4 525.0,170.7 524.0,170.7 524.0,167.5 523.0,167.5 523.0,165.9 522.0,165.9 522.0,163.8 521.0,163.8 521.0,162.7 520.0,162.7 520.0,163.9 519.0,163.9 519.0,165.3 518.0,165.3 518.0,166.6 517.0,166.6 517.0,168.3 516.0,168.3 516.0,166.8 515.0,166.8 515.0,167.0 514.0,167.0 514.0,164.4 513.0,164.4 513.0,163.7 512.0,163.7 512.0,162.1 511.0,162.1 511.0,161.6 510.0,161.6 510.0,162.0 509.0,162.0 509.0,160.8 508.0,160.8 508.0,160.7 507.0,160.7 507.0,160.3 506.0,160.3 506.0,160.3 505.0,160.3 505.0,159.7 504.0,159.7 504.0,159.3 503.0,159.3 503.0,159.6 502.0,159.6 502.0,159.5 501.0,159.5 501.0,158.5 500.0,158.5 500.0,158.7 499.0,158.7 499.0,158.9 498.0,158.9 498.0,159.0 497.0,159.0 497.0,160.9 496.0,160.9 496.0,162.0 495.0,162.0 495.0,162.9 494.0,162.9 494.0,164.5 493.0,164.5 493.0,164.2 492.0,164.2 492.0,162.3 491.0,162.3 491.0,161.3 490.0,161.3 490.0,159.9 489.0,159.9 489.0,158.9 488.0,158.9 488.0,158.3 487.0,158.3 487.0,158.6 486.0,158.6 486.0,158.0 485.0,158.0 485.0,156.8 484.0,156.8 484.0,156.5 483.0,156.5 483.0,156.1 482.0,156.1 482.0,155.8 481.0,155.8 481.0,155.9 480.0,155.9 480.0,155.4 479.0,155.4 479.0,155.3 478.0,155.3 478.0,154.7 477.0,154.7 477.0,153.3 476.0,153.3 476.0,152.8 475.0,152.8 475.0,153.3 474.0,153.3 474.0,154.0 473.0,154.0 473.0,155.5 472.0,155.5 472.0,156.6 471.0,156.6 471.0,157.2 470.0,157.2 470.0,157.7 469.0,157.7 469.0,158.3 468.0,158.3 468.0,158.6 467.0,158.6 467.0,159.2 466.0,159.2 466.0,159.5 465.0,159.5 465.0,160.8 464.0,160.8 464.0,161.4 463.0,161.4 463.0,161.2 462.0,161.2 462.0,161.9 461.0,161.9 461.0,162.6 460.0,162.6 460.0,163.5 459.0,163.5 459.0,163.9 458.0,163.9 458.0,164.5 457.0,164.5 457.0,165.0 456.0,165.0 456.0,166.5 455.0,166.5 455.0,166.8 454.0,166.8 454.0,167.7 453.0,167.7 453.0,169.3 452.0,169.3 452.0,169.0 451.0,169.0 451.0,168.6 450.0,168.6 450.0,168.3 449.0,168.3 449.0,166.0 448.0,166.0 448.0,164.9 447.0,164.9 447.0,163.3 446.0,163.3 446.0,162.0 445.0,162.0 445.0,162.8 444.0,162.8 444.0,164.3 443.0,164.3 443.0,165.1 442.0,165.1 442.0,164.1 441.0,164.1 441.0,162.2 440.0,162.2 440.0,159.2 439.0,159.2 439.0,157.7 438.0,157.7 438.0,157.5 437.0,157.5 437.0,157.6 436.0,157.6 436.0,158.6 435.0,158.6 435.0,159.2 434.0,159.2 434.0,159.5 433.0,159.5 433.0,159.5 432.0,159.5 432.0,161.4 431.0,161.4 431.0,163.0 430.0,163.0 430.0,164.9 429.0,164.9 429.0,167.4 428.0,167.4 428.0,168.7 427.0,168.7 427.0,170.7 426.0,170.7 426.0,171.8 425.0,171.8 425.0,170.1 424.0,170.1 424.0,167.6 423.0,167.6 423.0,167.0 422.0,167.0 422.0,164.4 421.0,164.4 421.0,163.7 420.0,163.7 420.0,162.8 419.0,162.8 419.0,162.9 418.0,162.9 418.0,163.4 417.0,163.4 417.0,163.7 416.0,163.7 416.0,163.8 415.0,163.8 415.0,164.8 414.0,164.8 414.0,164.6 413.0,164.6 413.0,165.0 412.0,165.0 412.0,165.6 411.0,165.6 411.0,165.5 410.0,165.5 410.0,167.0 409.0,167.0 409.0,166.8 408.0,166.8 408.0,167.4 407.0,167.4 407.0,167.9 406.0,167.9 406.0,168.3 405.0,168.3 405.0,169.5 404.0,169.5 404.0,171.5 403.0,171.5 403.0,172.0 402.0,172.0 402.0,169.4 401.0,169.4 401.0,170.0 400.0,170.0 400.0,172.7 399.0,172.7 399.0,171.0 398.0,171.0 398.0,169.4 397.0,169.4 397.0,169.9 396.0,169.9 396.0,168.9 395.0,168.9 395.0,168.5 394.0,168.5 394.0,168.5 393.0,168.5 393.0,168.4 392.0,168.4 392.0,167.9 391.0,167.9 391.0,169.0 390.0,169.0 390.0,169.7 389.0,169.7 389.0,170.0 388.0,170.0 388.0,169.2 387.0,169.2 387.0,168.9 386.0,168.9 386.0,168.5 385.0,168.5 385.0,166.5 384.0,166.5 384.0,167.5 383.0,167.5 383.0,167.5 382.0,167.5 382.0,169.2 381.0,169.2 381.0,170.7 380.0,170.7 380.0,170.9 379.0,170.9 379.0,170.5 378.0,170.5 378.0,168.7 377.0,168.7 377.0,167.6 376.0,167.6 376.0,165.9 375.0,165.9 375.0,163.8 374.0,163.8 374.0,162.4 373.0,162.4 373.0,160.5 372.0,160.5 372.0,160.7 371.0,160.7 371.0,161.2 370.0,161.2 370.0,161.1 369.0,161.1 369.0,161.9 368.0,161.9 368.0,161.3 367.0,161.3 367.0,162.3 366.0,162.3 366.0,162.3 365.0,162.3 365.0,163.0 364.0,163.0 364.0,163.5 363.0,163.5 363.0,163.0 362.0,163.0 362.0,163.7 361.0,163.7 361.0,163.9 360.0,163.9 360.0,164.0 359.0,164.0 359.0,163.9 358.0,163.9 358.0,164.5 357.0,164.5 357.0,163.3 356.0,163.3 356.0,164.0 355.0,164.0 355.0,165.0 354.0,165.0 354.0,167.1 353.0,167.1 353.0,170.6 352.0,170.6 352.0,173.7 351.0,173.7 351.0,180.7 350.0,180.7 350.0,185.1 349.0,185.1 349.0,184.4 348.0,184.4 348.0,184.6 347.0,184.6 347.0,184.7 346.0,184.7 346.0,184.6 345.0,184.6 345.0,184.7 344.0,184.7 344.0,184.7 343.0,184.7 343.0,184.8 342.0,184.8 342.0,185.0 341.0,185.0 341.0,184.9 340.0,184.9 340.0,184.8 339.0,184.8 339.0,184.7 338.0,184.7 338.0,184.6 337.0,184.6 337.0,184.7 336.0,184.7 336.0,184.4 335.0,184.4 335.0,184.6 334.0,184.6 334.0,184.1 333.0,184.1 333.0,179.6 332.0,179.6 332.0,169.8 331.0,169.8 331.0,169.8 330.0,169.8 330.0,169.6 329.0,169.6 329.0,169.6 328.0,169.6 328.0,170.0 327.0,170.0 327.0,171.2 326.0,171.2 326.0,174.1 325.0,174.1 325.0,173.2 324.0,173.2 324.0,169.5 323.0,169.5 323.0,169.8 322.0,169.8 322.0,169.8 321.0,169.8 321.0,170.2 320.0,170.2 320.0,175.4 319.0,175.4 319.0,180.0 318.0,180.0 318.0,181.9 317.0,181.9 317.0,181.6 316.0,181.6 316.0,181.6 315.0,181.6 315.0,179.6 314.0,179.6 314.0,173.6 313.0,173.6 313.0,169.5 312.0,169.5 312.0,170.4 311.0,170.4 311.0,170.4 310.0,170.4 310.0,178.8 309.0,178.8 309.0,181.2 308.0,181.2 308.0,184.9 307.0,184.9 307.0,187.6 306.0,187.6 306.0,187.6 305.0,187.6 305.0,187.6 304.0,187.6 304.0,187.6 303.0,187.6 303.0,187.6 302.0,187.6 302.0,187.5 301.0,187.5 301.0,187.5 300.0,187.5 300.0,187.5 299.0,187.5 299.0,187.6 298.0,187.6 298.0,187.5 297.0,187.5 297.0,187.4 296.0,187.4 296.0,187.6 295.0,187.6 295.0,187.6 294.0,187.6 294.0,187.4 293.0,187.4 293.0,187.5 292.0,187.5 292.0,187.5 291.0,187.5 291.0,187.5 290.0,187.5 290.0,187.6 289.0,187.6 289.0,187.7 288.0,187.7 288.0,187.5 287.0,187.5 287.0,187.6 286.0,187.6 286.0,187.7 285.0,187.7 285.0,187.7 284.0,187.7 284.0,187.5 283.0,187.5 283.0,187.4 282.0,187.4 282.0,187.5 281.0,187.5 281.0,187.5 280.0,187.5 280.0,187.6 279.0,187.6 279.0,187.7 278.0,187.7 278.0,187.6 277.0,187.6 277.0,187.5 276.0,187.5 276.0,177.9 275.0,177.9 275.0,173.9 274.0,173.9 274.0,170.4 273.0,170.4 273.0,169.3 272.0,169.3 272.0,168.5 271.0,168.5 271.0,168.3 270.0,168.3 270.0,168.8 269.0,168.8 269.0,169.0 268.0,169.0 268.0,168.5 267.0,168.5 267.0,168.6 266.0,168.6 266.0,169.2 265.0,169.2 265.0,168.8 264.0,168.8 264.0,169.4 263.0,169.4 263.0,169.7 262.0,169.7 262.0,169.2 261.0,169.2 261.0,169.4 260.0,169.4 260.0,169.5 259.0,169.5 259.0,169.6 258.0,169.6 258.0,169.2 257.0,169.2 257.0,169.6 256.0,169.6 256.0,169.5 255.0,169.5 255.0,171.4 254.0,171.4 254.0,174.5 253.0,174.5 253.0,177.7 252.0,177.7 252.0,182.4 251.0,182.4 251.0,185.5 250.0,185.5 250.0,183.7 249.0,183.7 249.0,181.3 248.0,181.3 248.0,176.5 247.0,176.5 247.0,174.1 246.0,174.1 246.0,171.7 245.0,171.7 245.0,171.2 244.0,171.2 244.0,170.0 243.0,170.0 243.0,169.4 242.0,169.4 242.0,169.2 241.0,169.2 241.0,169.1 240.0,169.1 240.0,169.0 239.0,169.0 239.0,169.4 238.0,169.4 238.0,169.1 237.0,169.1 237.0,168.5 236.0,168.5 236.0,168.8 235.0,168.8 235.0,168.1 234.0,168.1 234.0,168.2 233.0,168.2 233.0,168.7 232.0,168.7 232.0,168.3 231.0,168.3 231.0,168.7 230.0,168.7 230.0,168.3 229.0,168.3 229.0,169.1 228.0,169.1 228.0,169.4 227.0,169.4 227.0,169.6 226.0,169.6 226.0,169.3 225.0,169.3 225.0,169.9 224.0,169.9 224.0,168.9 223.0,168.9 223.0,169.8 222.0,169.8 222.0,168.7 221.0,168.7 221.0,168.8 220.0,168.8 220.0,168.7 219.0,168.7 219.0,168.4 218.0,168.4 218.0,167.2 217.0,167.2 217.0,166.8 216.0,166.8 216.0,166.7 215.0,166.7 215.0,166.9 214.0,166.9 214.0,166.4 213.0,166.4 213.0,165.5 212.0,165.5 212.0,164.6 211.0,164.6 211.0,164.8 210.0,164.8 210.0,163.8 209.0,163.8 209.0,163.3 208.0,163.3 208.0,163.0 207.0,163.0 207.0,162.9 206.0,162.9 206.0,163.4 205.0,163.4 205.0,163.8 204.0,163.8 204.0,164.4 203.0,164.4 203.0,165.2 202.0,165.2 202.0,167.0 201.0,167.0 201.0,167.7 200.0,167.7 200.0,169.5 199.0,169.5 199.0,168.0 198.0,168.0 198.0,166.4 197.0,166.4 197.0,164.9 196.0,164.9 196.0,164.5 195.0,164.5 195.0,164.6 194.0,164.6 194.0,165.7 193.0,165.7 193.0,167.3 192.0,167.3 192.0,167.5 191.0,167.5 191.0,168.9 190.0,168.9 190.0,168.8 189.0,168.8 189.0,169.2 188.0,169.2 188.0,169.2 187.0,169.2 187.0,169.6 186.0,169.6 186.0,168.7 185.0,168.7 185.0,168.6 184.0,168.6 184.0,167.8 183.0,167.8 183.0,167.5 182.0,167.5 182.0,167.0 181.0,167.0 181.0,166.2 180.0,166.2 180.0,164.1 179.0,164.1 179.0,163.4 178.0,163.4 178.0,162.9 177.0,162.9 177.0,162.3 176.0,162.3 176.0,161.9 175.0,161.9 175.0,161.9 174.0,161.9 174.0,162.2 173.0,162.2 173.0,162.4 172.0,162.4 172.0,164.0 171.0,164.0 171.0,164.3 170.0,164.3 170.0,165.8 169.0,165.8 169.0,166.8 168.0,166.8 168.0,167.6 167.0,167.6 167.0,169.0 166.0,169.0 166.0,169.1 165.0,169.1 165.0,171.0 164.0,171.0 164.0,171.6 163.0,171.6 163.0,172.4 162.0,172.4 162.0,172.6 161.0,172.6 161.0,173.4 160.0,173.4 160.0,173.2 159.0,173.2 159.0,172.4 158.0,172.4 158.0,172.8 157.0,172.8 157.0,171.2 156.0,171.2 156.0,170.4 155.0,170.4 155.0,170.1 154.0,170.1 154.0,170.4 153.0,170.4 153.0,171.0 152.0,171.0 152.0,170.6 151.0,170.6 151.0,170.3 150.0,170.3 150.0,168.7 149.0,168.7 149.0,168.2 148.0,168.2 148.0,167.6 147.0,167.6 147.0,167.7 146.0,167.7 146.0,168.9 145.0,168.9 145.0,170.9 144.0,170.9 144.0,171.6 143.0,171.6 143.0,171.7 142.0,171.7 142.0,171.4 141.0,171.4 141.0,170.3 140.0,170.3 140.0,169.8 139.0,169.8 139.0,169.9 138.0,169.9 138.0,168.8 137.0,168.8 137.0,170.7 136.0,170.7 136.0,171.7 135.0,171.7 135.0,177.7 134.0,177.7 134.0,183.1 133.0,183.1 133.0,187.6 132.0,187.6 132.0,187.6 131.0,187.6 131.0,187.6 130.0,187.6 130.0,187.5 129.0,187.5 129.0,187.5 128.0,187.5 128.0,187.4 127.0,187.4 127.0,187.6 126.0,187.6 126.0,187.6 125.0,187.6 125.0,187.6 124.0,187.6 124.0,187.5 123.0,187.5 123.0,187.4 122.0,187.4 122.0,187.4 121.0,187.4 121.0,187.2 120.0,187.2 120.0,187.1 119.0,187.1 119.0,187.3 118.0,187.3 118.0,187.1 117.0,187.1 117.0,187.0 116.0,187.0 116.0,186.8 115.0,186.8 115.0,182.1 114.0,182.1 114.0,176.7 113.0,176.7 113.0,172.6 112.0,172.6 112.0,170.0 111.0,170.0 111.0,169.1 110.0,169.1 110.0,168.3 109.0,168.3 109.0,167.9 108.0,167.9 108.0,166.5 107.0,166.5 107.0,166.8 106.0,166.8 106.0,166.6 105.0,166.6 105.0,166.9 104.0,166.9 104.0,168.2 103.0,168.2 103.0,168.3 102.0,168.3 102.0,169.3 101.0,169.3 101.0,168.8 100.0,168.8 100.0,168.9 99.0,168.9 99.0,169.3 98.0,169.3 98.0,169.7 97.0,169.7 97.0,171.3 96.0,171.3 96.0,172.5 95.0,172.5 95.0,172.6 94.0,172.6 94.0,171.2 93.0,171.2 93.0,170.1 92.0,170.1 92.0,170.2 91.0,170.2 91.0,169.9 90.0,169.9 90.0,169.9 89.0,169.9 89.0,169.7 88.0,169.7 88.0,168.0 87.0,168.0 87.0,166.7 86.0,166.7 86.0,164.6 85.0,164.6 85.0,164.5 84.0,164.5 84.0,166.0 83.0,166.0 83.0,167.0 82.0,167.0 82.0,168.4 81.0,168.4 81.0,167.9 80.0,167.9 80.0,169.2 79.0,169.2 79.0,169.2 78.0,169.2 78.0,170.0 77.0,170.0 77.0,172.3 76.0,172.3 76.0,177.1 75.0,177.1 75.0,183.3 74.0,183.3 74.0,187.0 73.0,187.0 73.0,187.0 72.0,187.0 72.0,186.9 71.0,186.9 71.0,186.8 70.0,186.8 70.0,187.0 69.0,187.0"/>
</g>
<g font-size="11.6px">
<text transform="translate(69.4,283.4) scale(1.135,1)" text-anchor="middle">0</text><text transform="translate(116.0,283.4) scale(1.135,1)" text-anchor="middle">100</text><text transform="translate(162.6,283.4) scale(1.135,1)" text-anchor="middle">200</text><text transform="translate(209.3,283.4) scale(1.135,1)" text-anchor="middle">300</text><text transform="translate(255.9,283.4) scale(1.135,1)" text-anchor="middle">400</text><text transform="translate(302.5,283.4) scale(1.135,1)" text-anchor="middle">500</text><text transform="translate(349.1,283.4) scale(1.135,1)" text-anchor="middle">600</text><text transform="translate(395.7,283.4) scale(1.135,1)" text-anchor="middle">700</text><text transform="translate(442.4,283.4) scale(1.135,1)" text-anchor="middle">800</text><text transform="translate(489.0,283.4) scale(1.135,1)" text-anchor="middle">900</text><text transform="translate(535.6,283.4) scale(1.135,1)" text-anchor="middle">1000</text>
<text transform="translate(64.0,272.9) scale(1.135,1)" text-anchor="end">-800</text><text transform="translate(64.0,246.9) scale(1.135,1)" text-anchor="end">-600</text><text transform="translate(64.0,221.0) scale(1.135,1)" text-anchor="end">-400</text><text transform="translate(64.0,195.0) scale(1.135,1)" text-anchor="end">-200</text><text transform="translate(64.0,169.0) scale(1.135,1)" text-anchor="end">0</text><text transform="translate(64.0,143.1) scale(1.135,1)" text-anchor="end">200</text><text transform="translate(64.0,117.1) scale(1.135,1)" text-anchor="end">400</text><text transform="translate(64.0,91.1) scale(1.135,1)" text-anchor="end">600</text><text transform="translate(64.0,65.1) scale(1.135,1)" text-anchor="end">800</text><text transform="translate(64.0,39.2) scale(1.135,1)" text-anchor="end">1000</text><text transform="translate(64.0,13.2) scale(1.135,1)" text-anchor="end">1200</text>
</g>
<text transform="translate(304.5,298.5) scale(1.10,1)" text-anchor="middle" font-size="13px">Time (s)</text>
<text transform="translate(15.7,137.7) scale(1.14,1) rotate(-90)" text-anchor="middle" font-size="12.7px">IM Torque (Nm)</text>
<g>
<rect x="343.4" y="13.5" width="194" height="13.7" fill="#fff" stroke="#858585" stroke-width="0.8"/>
<line x1="347" y1="20.6" x2="371" y2="20.6" stroke="#8080ff" stroke-width="1.8"/>
<text transform="translate(374,24.7) scale(1.10,1)" font-size="10.5px">DTC</text>
<line x1="404" y1="20.6" x2="428" y2="20.6" stroke="#dede78" stroke-width="1.8"/>
<text transform="translate(431,24.7) scale(1.15,1)" font-size="10.5px">MP DTC</text>
<line x1="483.6" y1="20.6" x2="508" y2="20.6" stroke="#ff8080" stroke-width="1.8"/>
<text transform="translate(510.2,24.7) scale(1.15,1)" font-size="10.5px">PVC</text>
</g>
</svg>
</body></html>
